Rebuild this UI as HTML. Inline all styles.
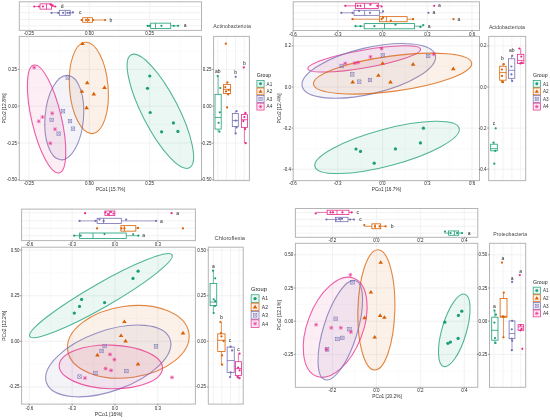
<!DOCTYPE html>
<html><head><meta charset="utf-8"><style>
html,body{margin:0;padding:0;background:#fff;width:550px;height:420px;overflow:hidden}
svg{display:block;position:absolute;left:0;top:0;will-change:transform}
#g{filter:blur(0.3px)}
text{font-family:"Liberation Sans", sans-serif}
</style></head><body>
<svg id="g" width="550" height="420" viewBox="0 0 550 420">
<rect width="550" height="420" fill="#fff"/>
<line x1="59.11" y1="1.80" x2="59.11" y2="30.40" stroke="#f6f6f6" stroke-width="0.5"/>
<line x1="119.49" y1="1.80" x2="119.49" y2="30.40" stroke="#f6f6f6" stroke-width="0.5"/>
<line x1="179.86" y1="1.80" x2="179.86" y2="30.40" stroke="#f6f6f6" stroke-width="0.5"/>
<line x1="28.92" y1="1.80" x2="28.92" y2="30.40" stroke="#ececec" stroke-width="0.7"/>
<line x1="89.30" y1="1.80" x2="89.30" y2="30.40" stroke="#ececec" stroke-width="0.7"/>
<line x1="149.68" y1="1.80" x2="149.68" y2="30.40" stroke="#ececec" stroke-width="0.7"/>
<line x1="59.11" y1="36.40" x2="59.11" y2="180.60" stroke="#f6f6f6" stroke-width="0.5"/>
<line x1="119.49" y1="36.40" x2="119.49" y2="180.60" stroke="#f6f6f6" stroke-width="0.5"/>
<line x1="179.86" y1="36.40" x2="179.86" y2="180.60" stroke="#f6f6f6" stroke-width="0.5"/>
<line x1="28.92" y1="36.40" x2="28.92" y2="180.60" stroke="#ececec" stroke-width="0.7"/>
<line x1="89.30" y1="36.40" x2="89.30" y2="180.60" stroke="#ececec" stroke-width="0.7"/>
<line x1="149.68" y1="36.40" x2="149.68" y2="180.60" stroke="#ececec" stroke-width="0.7"/>
<line x1="19.30" y1="161.40" x2="201.50" y2="161.40" stroke="#f6f6f6" stroke-width="0.5"/>
<line x1="19.30" y1="124.60" x2="201.50" y2="124.60" stroke="#f6f6f6" stroke-width="0.5"/>
<line x1="19.30" y1="87.80" x2="201.50" y2="87.80" stroke="#f6f6f6" stroke-width="0.5"/>
<line x1="19.30" y1="51.00" x2="201.50" y2="51.00" stroke="#f6f6f6" stroke-width="0.5"/>
<line x1="19.30" y1="179.80" x2="201.50" y2="179.80" stroke="#ececec" stroke-width="0.7"/>
<line x1="19.30" y1="143.00" x2="201.50" y2="143.00" stroke="#ececec" stroke-width="0.7"/>
<line x1="19.30" y1="106.20" x2="201.50" y2="106.20" stroke="#ececec" stroke-width="0.7"/>
<line x1="19.30" y1="69.40" x2="201.50" y2="69.40" stroke="#ececec" stroke-width="0.7"/>
<line x1="213.60" y1="161.40" x2="249.40" y2="161.40" stroke="#f6f6f6" stroke-width="0.5"/>
<line x1="213.60" y1="124.60" x2="249.40" y2="124.60" stroke="#f6f6f6" stroke-width="0.5"/>
<line x1="213.60" y1="87.80" x2="249.40" y2="87.80" stroke="#f6f6f6" stroke-width="0.5"/>
<line x1="213.60" y1="51.00" x2="249.40" y2="51.00" stroke="#f6f6f6" stroke-width="0.5"/>
<line x1="213.60" y1="179.80" x2="249.40" y2="179.80" stroke="#ececec" stroke-width="0.7"/>
<line x1="213.60" y1="143.00" x2="249.40" y2="143.00" stroke="#ececec" stroke-width="0.7"/>
<line x1="213.60" y1="106.20" x2="249.40" y2="106.20" stroke="#ececec" stroke-width="0.7"/>
<line x1="213.60" y1="69.40" x2="249.40" y2="69.40" stroke="#ececec" stroke-width="0.7"/>
<line x1="19.30" y1="6.50" x2="201.50" y2="6.50" stroke="#ececec" stroke-width="0.7"/>
<line x1="19.30" y1="12.60" x2="201.50" y2="12.60" stroke="#ececec" stroke-width="0.7"/>
<line x1="19.30" y1="19.50" x2="201.50" y2="19.50" stroke="#ececec" stroke-width="0.7"/>
<line x1="19.30" y1="25.80" x2="201.50" y2="25.80" stroke="#ececec" stroke-width="0.7"/>
<line x1="217.80" y1="36.40" x2="217.80" y2="180.60" stroke="#ececec" stroke-width="0.7"/>
<line x1="226.50" y1="36.40" x2="226.50" y2="180.60" stroke="#ececec" stroke-width="0.7"/>
<line x1="235.50" y1="36.40" x2="235.50" y2="180.60" stroke="#ececec" stroke-width="0.7"/>
<line x1="244.30" y1="36.40" x2="244.30" y2="180.60" stroke="#ececec" stroke-width="0.7"/>
<defs><clipPath id="cliptl"><rect x="19.3" y="36.4" width="182.2" height="144.2"/></clipPath></defs>
<g clip-path="url(#cliptl)">
<ellipse cx="160.36" cy="111.28" rx="63.53" ry="18.03" transform="rotate(-117.23 160.36 111.28)" fill="#1B9E77" fill-opacity="0.085" stroke="#1B9E77" stroke-opacity="0.75" stroke-width="1.1"/>
<ellipse cx="88.84" cy="87.94" rx="45.84" ry="19.29" transform="rotate(-94.51 88.84 87.94)" fill="#D95F02" fill-opacity="0.085" stroke="#D95F02" stroke-opacity="0.75" stroke-width="1.1"/>
<ellipse cx="64.26" cy="117.59" rx="42.36" ry="19.25" transform="rotate(-85.17 64.26 117.59)" fill="#7570B3" fill-opacity="0.085" stroke="#7570B3" stroke-opacity="0.75" stroke-width="1.1"/>
<ellipse cx="46.57" cy="119.01" rx="55.40" ry="14.84" transform="rotate(-103.23 46.57 119.01)" fill="#E7298A" fill-opacity="0.085" stroke="#E7298A" stroke-opacity="0.75" stroke-width="1.1"/>
<circle cx="149.80" cy="76.00" r="1.61" fill="#1B9E77"/>
<circle cx="147.50" cy="88.30" r="1.61" fill="#1B9E77"/>
<circle cx="150.20" cy="112.50" r="1.61" fill="#1B9E77"/>
<circle cx="173.40" cy="122.90" r="1.61" fill="#1B9E77"/>
<circle cx="161.60" cy="131.80" r="1.61" fill="#1B9E77"/>
<circle cx="177.90" cy="131.40" r="1.61" fill="#1B9E77"/>
<path d="M82.50,41.46 L84.80,45.10 L80.20,45.10Z" fill="#D95F02"/>
<path d="M87.20,80.56 L89.50,84.20 L84.91,84.20Z" fill="#D95F02"/>
<path d="M104.50,85.26 L106.80,88.90 L102.20,88.90Z" fill="#D95F02"/>
<path d="M81.90,89.16 L84.20,92.80 L79.61,92.80Z" fill="#D95F02"/>
<path d="M93.80,91.86 L96.09,95.50 L91.50,95.50Z" fill="#D95F02"/>
<path d="M86.60,105.56 L88.89,109.20 L84.30,109.20Z" fill="#D95F02"/>
<g stroke="#7570B3" stroke-width="0.5" fill="none"><rect x="66.02" y="75.92" width="3.57" height="3.57"/><path d="M66.02,75.92L69.58,79.48M69.58,75.92L66.02,79.48"/></g>
<g stroke="#7570B3" stroke-width="0.5" fill="none"><rect x="61.22" y="109.42" width="3.57" height="3.57"/><path d="M61.22,109.42L64.78,112.98M64.78,109.42L61.22,112.98"/></g>
<g stroke="#7570B3" stroke-width="0.5" fill="none"><rect x="49.92" y="118.12" width="3.57" height="3.57"/><path d="M49.92,118.12L53.48,121.69M53.48,118.12L49.92,121.69"/></g>
<g stroke="#7570B3" stroke-width="0.5" fill="none"><rect x="68.22" y="119.31" width="3.57" height="3.57"/><path d="M68.22,119.31L71.78,122.88M71.78,119.31L68.22,122.88"/></g>
<g stroke="#7570B3" stroke-width="0.5" fill="none"><rect x="71.22" y="126.91" width="3.57" height="3.57"/><path d="M71.22,126.91L74.78,130.48M74.78,126.91L71.22,130.48"/></g>
<g stroke="#7570B3" stroke-width="0.5" fill="none"><rect x="56.92" y="131.91" width="3.57" height="3.57"/><path d="M56.92,131.91L60.48,135.48M60.48,131.91L56.92,135.48"/></g>
<g stroke="#E7298A" stroke-width="0.55" fill="none"><path d="M32.59,65.98L35.82,69.21M35.82,65.98L32.59,69.21M32.18,67.60L36.22,67.60M34.20,65.58L34.20,69.62"/></g>
<g stroke="#E7298A" stroke-width="0.55" fill="none"><path d="M50.59,111.69L53.82,114.91M53.82,111.69L50.59,114.91M50.18,113.30L54.22,113.30M52.20,111.28L52.20,115.32"/></g>
<g stroke="#E7298A" stroke-width="0.55" fill="none"><path d="M40.88,115.39L44.12,118.61M44.12,115.39L40.88,118.61M40.48,117.00L44.52,117.00M42.50,114.98L42.50,119.02"/></g>
<g stroke="#E7298A" stroke-width="0.55" fill="none"><path d="M37.18,119.69L40.41,122.91M40.41,119.69L37.18,122.91M36.78,121.30L40.82,121.30M38.80,119.28L38.80,123.32"/></g>
<g stroke="#E7298A" stroke-width="0.55" fill="none"><path d="M53.38,127.58L56.62,130.81M56.62,127.58L53.38,130.81M52.98,129.20L57.02,129.20M55.00,127.18L55.00,131.22"/></g>
<g stroke="#E7298A" stroke-width="0.55" fill="none"><path d="M48.68,141.69L51.91,144.92M51.91,141.69L48.68,144.92M48.28,143.30L52.32,143.30M50.30,141.28L50.30,145.32"/></g>
</g>
<line x1="34.30" y1="6.50" x2="40.00" y2="6.50" stroke="#E7298A" stroke-width="0.65"/>
<line x1="51.60" y1="6.50" x2="55.30" y2="6.50" stroke="#E7298A" stroke-width="0.65"/>
<rect x="40.00" y="3.85" width="11.60" height="5.30" fill="#fff" stroke="#E7298A" stroke-width="0.8"/>
<line x1="46.50" y1="3.85" x2="46.50" y2="9.15" stroke="#E7298A" stroke-width="0.8"/>
<circle cx="34.30" cy="6.50" r="1.10" fill="#E7298A"/>
<circle cx="38.90" cy="6.50" r="1.10" fill="#E7298A"/>
<circle cx="42.90" cy="6.50" r="1.10" fill="#E7298A"/>
<circle cx="50.50" cy="4.60" r="1.10" fill="#E7298A"/>
<circle cx="52.70" cy="5.30" r="1.10" fill="#E7298A"/>
<circle cx="55.30" cy="6.50" r="1.10" fill="#E7298A"/>
<line x1="51.30" y1="12.80" x2="59.30" y2="12.80" stroke="#7570B3" stroke-width="0.65"/>
<line x1="70.20" y1="12.80" x2="73.30" y2="12.80" stroke="#7570B3" stroke-width="0.65"/>
<rect x="59.30" y="10.30" width="10.90" height="5.00" fill="#fff" stroke="#7570B3" stroke-width="0.8"/>
<line x1="65.30" y1="10.30" x2="65.30" y2="15.30" stroke="#7570B3" stroke-width="0.8"/>
<circle cx="51.50" cy="12.80" r="1.10" fill="#7570B3"/>
<circle cx="58.20" cy="12.80" r="1.10" fill="#7570B3"/>
<circle cx="63.10" cy="12.80" r="1.10" fill="#7570B3"/>
<circle cx="67.50" cy="12.80" r="1.10" fill="#7570B3"/>
<circle cx="69.60" cy="12.80" r="1.10" fill="#7570B3"/>
<circle cx="72.90" cy="12.30" r="1.10" fill="#7570B3"/>
<line x1="81.30" y1="20.00" x2="82.70" y2="20.00" stroke="#D95F02" stroke-width="0.65"/>
<line x1="92.50" y1="20.00" x2="105.10" y2="20.00" stroke="#D95F02" stroke-width="0.65"/>
<rect x="82.70" y="17.75" width="9.80" height="4.50" fill="#fff" stroke="#D95F02" stroke-width="0.8"/>
<line x1="87.60" y1="17.75" x2="87.60" y2="22.25" stroke="#D95F02" stroke-width="0.8"/>
<circle cx="81.60" cy="20.00" r="1.10" fill="#D95F02"/>
<circle cx="86.00" cy="20.00" r="1.10" fill="#D95F02"/>
<circle cx="88.70" cy="20.00" r="1.10" fill="#D95F02"/>
<circle cx="93.10" cy="20.00" r="1.10" fill="#D95F02"/>
<circle cx="105.10" cy="20.00" r="1.10" fill="#D95F02"/>
<line x1="147.60" y1="25.80" x2="150.70" y2="25.80" stroke="#1B9E77" stroke-width="0.65"/>
<line x1="170.70" y1="25.80" x2="178.10" y2="25.80" stroke="#1B9E77" stroke-width="0.65"/>
<rect x="150.70" y="23.15" width="20.00" height="5.30" fill="#fff" stroke="#1B9E77" stroke-width="0.8"/>
<line x1="155.50" y1="23.15" x2="155.50" y2="28.45" stroke="#1B9E77" stroke-width="0.8"/>
<circle cx="147.60" cy="25.80" r="1.10" fill="#1B9E77"/>
<circle cx="149.30" cy="25.80" r="1.10" fill="#1B9E77"/>
<circle cx="161.40" cy="25.80" r="1.10" fill="#1B9E77"/>
<circle cx="173.80" cy="25.80" r="1.10" fill="#1B9E77"/>
<circle cx="178.10" cy="25.80" r="1.10" fill="#1B9E77"/>
<line x1="218.10" y1="76.00" x2="218.10" y2="94.30" stroke="#1B9E77" stroke-width="0.65"/>
<line x1="218.10" y1="129.10" x2="218.10" y2="131.70" stroke="#1B9E77" stroke-width="0.65"/>
<rect x="215.00" y="94.30" width="6.20" height="34.80" fill="#fff" stroke="#1B9E77" stroke-width="0.8"/>
<line x1="215.00" y1="117.50" x2="221.20" y2="117.50" stroke="#1B9E77" stroke-width="0.8"/>
<circle cx="217.70" cy="76.00" r="1.10" fill="#1B9E77"/>
<circle cx="220.30" cy="88.00" r="1.10" fill="#1B9E77"/>
<circle cx="219.80" cy="112.30" r="1.10" fill="#1B9E77"/>
<circle cx="218.60" cy="122.80" r="1.10" fill="#1B9E77"/>
<circle cx="219.40" cy="131.70" r="1.10" fill="#1B9E77"/>
<circle cx="225.80" cy="43.70" r="1.10" fill="#D95F02"/>
<circle cx="227.10" cy="107.40" r="1.10" fill="#D95F02"/>
<line x1="227.00" y1="82.40" x2="227.00" y2="84.50" stroke="#D95F02" stroke-width="0.65"/>
<line x1="227.00" y1="93.60" x2="227.00" y2="94.40" stroke="#D95F02" stroke-width="0.65"/>
<rect x="223.60" y="84.50" width="6.80" height="9.10" fill="#fff" stroke="#D95F02" stroke-width="0.8"/>
<line x1="223.60" y1="89.30" x2="230.40" y2="89.30" stroke="#D95F02" stroke-width="0.8"/>
<circle cx="227.40" cy="82.40" r="1.10" fill="#D95F02"/>
<circle cx="225.30" cy="87.10" r="1.10" fill="#D95F02"/>
<circle cx="228.70" cy="90.10" r="1.10" fill="#D95F02"/>
<circle cx="226.10" cy="91.40" r="1.10" fill="#D95F02"/>
<circle cx="228.30" cy="94.40" r="1.10" fill="#D95F02"/>
<line x1="235.30" y1="111.10" x2="235.30" y2="113.40" stroke="#7570B3" stroke-width="0.65"/>
<line x1="235.30" y1="126.60" x2="235.30" y2="133.40" stroke="#7570B3" stroke-width="0.65"/>
<rect x="232.30" y="113.40" width="6.00" height="13.20" fill="#fff" stroke="#7570B3" stroke-width="0.8"/>
<line x1="232.30" y1="120.60" x2="238.30" y2="120.60" stroke="#7570B3" stroke-width="0.8"/>
<circle cx="236.60" cy="111.10" r="1.10" fill="#7570B3"/>
<circle cx="235.70" cy="120.60" r="1.10" fill="#7570B3"/>
<circle cx="236.60" cy="127.40" r="1.10" fill="#7570B3"/>
<circle cx="235.70" cy="133.40" r="1.10" fill="#7570B3"/>
<circle cx="235.70" cy="76.80" r="1.10" fill="#7570B3"/>
<line x1="244.40" y1="112.90" x2="244.40" y2="114.60" stroke="#E7298A" stroke-width="0.65"/>
<line x1="244.40" y1="127.40" x2="244.40" y2="143.20" stroke="#E7298A" stroke-width="0.65"/>
<rect x="241.40" y="114.60" width="6.00" height="12.80" fill="#fff" stroke="#E7298A" stroke-width="0.8"/>
<line x1="241.40" y1="119.70" x2="247.40" y2="119.70" stroke="#E7298A" stroke-width="0.8"/>
<circle cx="245.50" cy="112.90" r="1.10" fill="#E7298A"/>
<circle cx="244.30" cy="117.10" r="1.10" fill="#E7298A"/>
<circle cx="243.40" cy="121.10" r="1.10" fill="#E7298A"/>
<circle cx="245.10" cy="129.10" r="1.10" fill="#E7298A"/>
<circle cx="245.70" cy="143.20" r="1.10" fill="#E7298A"/>
<circle cx="243.80" cy="67.40" r="1.10" fill="#E7298A"/>
<rect x="19.30" y="1.80" width="182.20" height="28.60" fill="none" stroke="#b4b4b4" stroke-width="1"/>
<rect x="19.30" y="36.40" width="182.20" height="144.20" fill="none" stroke="#b4b4b4" stroke-width="1"/>
<rect x="213.60" y="36.40" width="35.80" height="144.20" fill="none" stroke="#b4b4b4" stroke-width="1"/>
<line x1="28.92" y1="30.40" x2="28.92" y2="32.00" stroke="#777" stroke-width="0.7"/>
<line x1="28.92" y1="180.60" x2="28.92" y2="182.20" stroke="#777" stroke-width="0.7"/>
<line x1="89.30" y1="30.40" x2="89.30" y2="32.00" stroke="#777" stroke-width="0.7"/>
<line x1="89.30" y1="180.60" x2="89.30" y2="182.20" stroke="#777" stroke-width="0.7"/>
<line x1="149.68" y1="30.40" x2="149.68" y2="32.00" stroke="#777" stroke-width="0.7"/>
<line x1="149.68" y1="180.60" x2="149.68" y2="182.20" stroke="#777" stroke-width="0.7"/>
<line x1="17.70" y1="179.80" x2="19.30" y2="179.80" stroke="#777" stroke-width="0.7"/>
<line x1="212.00" y1="179.80" x2="213.60" y2="179.80" stroke="#777" stroke-width="0.7"/>
<line x1="17.70" y1="143.00" x2="19.30" y2="143.00" stroke="#777" stroke-width="0.7"/>
<line x1="212.00" y1="143.00" x2="213.60" y2="143.00" stroke="#777" stroke-width="0.7"/>
<line x1="17.70" y1="106.20" x2="19.30" y2="106.20" stroke="#777" stroke-width="0.7"/>
<line x1="212.00" y1="106.20" x2="213.60" y2="106.20" stroke="#777" stroke-width="0.7"/>
<line x1="17.70" y1="69.40" x2="19.30" y2="69.40" stroke="#777" stroke-width="0.7"/>
<line x1="212.00" y1="69.40" x2="213.60" y2="69.40" stroke="#777" stroke-width="0.7"/>
<rect x="256.90" y="80.35" width="7.20" height="6.90" fill="#1B9E77" fill-opacity="0.1" stroke="#1B9E77" stroke-width="0.7"/>
<circle cx="260.50" cy="83.80" r="1.47" fill="#1B9E77"/>
<rect x="256.90" y="87.95" width="7.20" height="6.90" fill="#D95F02" fill-opacity="0.1" stroke="#D95F02" stroke-width="0.7"/>
<path d="M260.50,89.45 L262.59,92.77 L258.41,92.77Z" fill="#D95F02"/>
<rect x="256.90" y="95.55" width="7.20" height="6.90" fill="#7570B3" fill-opacity="0.1" stroke="#7570B3" stroke-width="0.7"/>
<g stroke="#7570B3" stroke-width="0.5" fill="none"><rect x="258.87" y="97.37" width="3.26" height="3.26"/><path d="M258.87,97.37L262.13,100.63M262.13,97.37L258.87,100.63"/></g>
<rect x="256.90" y="103.15" width="7.20" height="6.90" fill="#E7298A" fill-opacity="0.1" stroke="#E7298A" stroke-width="0.7"/>
<g stroke="#E7298A" stroke-width="0.55" fill="none"><path d="M259.03,105.13L261.97,108.07M261.97,105.13L259.03,108.07M258.66,106.60L262.34,106.60M260.50,104.76L260.50,108.44"/></g>
<line x1="315.36" y1="1.80" x2="315.36" y2="30.50" stroke="#f6f6f6" stroke-width="0.5"/>
<line x1="360.12" y1="1.80" x2="360.12" y2="30.50" stroke="#f6f6f6" stroke-width="0.5"/>
<line x1="404.88" y1="1.80" x2="404.88" y2="30.50" stroke="#f6f6f6" stroke-width="0.5"/>
<line x1="449.64" y1="1.80" x2="449.64" y2="30.50" stroke="#f6f6f6" stroke-width="0.5"/>
<line x1="337.74" y1="1.80" x2="337.74" y2="30.50" stroke="#ececec" stroke-width="0.7"/>
<line x1="382.50" y1="1.80" x2="382.50" y2="30.50" stroke="#ececec" stroke-width="0.7"/>
<line x1="427.26" y1="1.80" x2="427.26" y2="30.50" stroke="#ececec" stroke-width="0.7"/>
<line x1="472.02" y1="1.80" x2="472.02" y2="30.50" stroke="#ececec" stroke-width="0.7"/>
<line x1="315.36" y1="36.40" x2="315.36" y2="180.65" stroke="#f6f6f6" stroke-width="0.5"/>
<line x1="360.12" y1="36.40" x2="360.12" y2="180.65" stroke="#f6f6f6" stroke-width="0.5"/>
<line x1="404.88" y1="36.40" x2="404.88" y2="180.65" stroke="#f6f6f6" stroke-width="0.5"/>
<line x1="449.64" y1="36.40" x2="449.64" y2="180.65" stroke="#f6f6f6" stroke-width="0.5"/>
<line x1="337.74" y1="36.40" x2="337.74" y2="180.65" stroke="#ececec" stroke-width="0.7"/>
<line x1="382.50" y1="36.40" x2="382.50" y2="180.65" stroke="#ececec" stroke-width="0.7"/>
<line x1="427.26" y1="36.40" x2="427.26" y2="180.65" stroke="#ececec" stroke-width="0.7"/>
<line x1="472.02" y1="36.40" x2="472.02" y2="180.65" stroke="#ececec" stroke-width="0.7"/>
<line x1="293.20" y1="148.65" x2="479.50" y2="148.65" stroke="#f6f6f6" stroke-width="0.5"/>
<line x1="293.20" y1="107.55" x2="479.50" y2="107.55" stroke="#f6f6f6" stroke-width="0.5"/>
<line x1="293.20" y1="66.45" x2="479.50" y2="66.45" stroke="#f6f6f6" stroke-width="0.5"/>
<line x1="293.20" y1="169.20" x2="479.50" y2="169.20" stroke="#ececec" stroke-width="0.7"/>
<line x1="293.20" y1="128.10" x2="479.50" y2="128.10" stroke="#ececec" stroke-width="0.7"/>
<line x1="293.20" y1="87.00" x2="479.50" y2="87.00" stroke="#ececec" stroke-width="0.7"/>
<line x1="293.20" y1="45.90" x2="479.50" y2="45.90" stroke="#ececec" stroke-width="0.7"/>
<line x1="488.70" y1="148.65" x2="525.70" y2="148.65" stroke="#f6f6f6" stroke-width="0.5"/>
<line x1="488.70" y1="107.55" x2="525.70" y2="107.55" stroke="#f6f6f6" stroke-width="0.5"/>
<line x1="488.70" y1="66.45" x2="525.70" y2="66.45" stroke="#f6f6f6" stroke-width="0.5"/>
<line x1="488.70" y1="169.20" x2="525.70" y2="169.20" stroke="#ececec" stroke-width="0.7"/>
<line x1="488.70" y1="128.10" x2="525.70" y2="128.10" stroke="#ececec" stroke-width="0.7"/>
<line x1="488.70" y1="87.00" x2="525.70" y2="87.00" stroke="#ececec" stroke-width="0.7"/>
<line x1="488.70" y1="45.90" x2="525.70" y2="45.90" stroke="#ececec" stroke-width="0.7"/>
<line x1="293.20" y1="5.80" x2="479.50" y2="5.80" stroke="#ececec" stroke-width="0.7"/>
<line x1="293.20" y1="12.80" x2="479.50" y2="12.80" stroke="#ececec" stroke-width="0.7"/>
<line x1="293.20" y1="19.20" x2="479.50" y2="19.20" stroke="#ececec" stroke-width="0.7"/>
<line x1="293.20" y1="26.20" x2="479.50" y2="26.20" stroke="#ececec" stroke-width="0.7"/>
<line x1="494.70" y1="36.40" x2="494.70" y2="180.65" stroke="#ececec" stroke-width="0.7"/>
<line x1="503.00" y1="36.40" x2="503.00" y2="180.65" stroke="#ececec" stroke-width="0.7"/>
<line x1="511.90" y1="36.40" x2="511.90" y2="180.65" stroke="#ececec" stroke-width="0.7"/>
<line x1="520.60" y1="36.40" x2="520.60" y2="180.65" stroke="#ececec" stroke-width="0.7"/>
<defs><clipPath id="cliptr"><rect x="293.2" y="36.4" width="186.3" height="144.25"/></clipPath></defs>
<g clip-path="url(#cliptr)">
<ellipse cx="364.19" cy="58.93" rx="57.16" ry="8.88" transform="rotate(170.13 364.19 58.93)" fill="#E7298A" fill-opacity="0.085" stroke="#E7298A" stroke-opacity="0.75" stroke-width="1.1"/>
<ellipse cx="368.75" cy="70.88" rx="68.38" ry="23.13" transform="rotate(166.81 368.75 70.88)" fill="#7570B3" fill-opacity="0.085" stroke="#7570B3" stroke-opacity="0.75" stroke-width="1.1"/>
<ellipse cx="392.60" cy="73.64" rx="79.80" ry="17.63" transform="rotate(172.33 392.60 73.64)" fill="#D95F02" fill-opacity="0.085" stroke="#D95F02" stroke-opacity="0.75" stroke-width="1.1"/>
<ellipse cx="387.06" cy="147.42" rx="74.63" ry="18.36" transform="rotate(165.12 387.06 147.42)" fill="#1B9E77" fill-opacity="0.085" stroke="#1B9E77" stroke-opacity="0.75" stroke-width="1.1"/>
<circle cx="356.00" cy="149.00" r="1.61" fill="#1B9E77"/>
<circle cx="360.50" cy="151.40" r="1.61" fill="#1B9E77"/>
<circle cx="374.20" cy="163.20" r="1.61" fill="#1B9E77"/>
<circle cx="395.40" cy="148.90" r="1.61" fill="#1B9E77"/>
<circle cx="420.40" cy="142.90" r="1.61" fill="#1B9E77"/>
<circle cx="423.40" cy="128.20" r="1.61" fill="#1B9E77"/>
<path d="M352.70,79.76 L355.00,83.40 L350.40,83.40Z" fill="#D95F02"/>
<path d="M378.40,73.16 L380.69,76.80 L376.10,76.80Z" fill="#D95F02"/>
<path d="M382.60,61.16 L384.90,64.80 L380.31,64.80Z" fill="#D95F02"/>
<path d="M390.50,79.86 L392.80,83.50 L388.20,83.50Z" fill="#D95F02"/>
<path d="M413.10,62.06 L415.40,65.70 L410.81,65.70Z" fill="#D95F02"/>
<path d="M453.30,66.56 L455.60,70.20 L451.00,70.20Z" fill="#D95F02"/>
<g stroke="#7570B3" stroke-width="0.5" fill="none"><rect x="339.91" y="64.22" width="3.57" height="3.57"/><path d="M339.91,64.22L343.49,67.78M343.49,64.22L339.91,67.78"/></g>
<g stroke="#7570B3" stroke-width="0.5" fill="none"><rect x="350.41" y="72.62" width="3.57" height="3.57"/><path d="M350.41,72.62L353.99,76.19M353.99,72.62L350.41,76.19"/></g>
<g stroke="#7570B3" stroke-width="0.5" fill="none"><rect x="357.41" y="79.92" width="3.57" height="3.57"/><path d="M357.41,79.92L360.99,83.48M360.99,79.92L357.41,83.48"/></g>
<g stroke="#7570B3" stroke-width="0.5" fill="none"><rect x="368.21" y="78.22" width="3.57" height="3.57"/><path d="M368.21,78.22L371.79,81.78M371.79,78.22L368.21,81.78"/></g>
<g stroke="#7570B3" stroke-width="0.5" fill="none"><rect x="381.01" y="53.52" width="3.57" height="3.57"/><path d="M381.01,53.52L384.59,57.08M384.59,53.52L381.01,57.08"/></g>
<g stroke="#7570B3" stroke-width="0.5" fill="none"><rect x="426.41" y="54.22" width="3.57" height="3.57"/><path d="M426.41,54.22L429.99,57.78M429.99,54.22L426.41,57.78"/></g>
<g stroke="#E7298A" stroke-width="0.55" fill="none"><path d="M343.58,61.78L346.81,65.02M346.81,61.78L343.58,65.02M343.18,63.40L347.22,63.40M345.20,61.38L345.20,65.42"/></g>
<g stroke="#E7298A" stroke-width="0.55" fill="none"><path d="M353.19,61.48L356.42,64.72M356.42,61.48L353.19,64.72M352.78,63.10L356.82,63.10M354.80,61.08L354.80,65.12"/></g>
<g stroke="#E7298A" stroke-width="0.55" fill="none"><path d="M356.38,60.88L359.62,64.11M359.62,60.88L356.38,64.11M355.98,62.50L360.02,62.50M358.00,60.48L358.00,64.52"/></g>
<g stroke="#E7298A" stroke-width="0.55" fill="none"><path d="M368.88,55.28L372.12,58.52M372.12,55.28L368.88,58.52M368.48,56.90L372.52,56.90M370.50,54.88L370.50,58.92"/></g>
<g stroke="#E7298A" stroke-width="0.55" fill="none"><path d="M379.88,46.98L383.12,50.22M383.12,46.98L379.88,50.22M379.48,48.60L383.52,48.60M381.50,46.58L381.50,50.62"/></g>
<g stroke="#E7298A" stroke-width="0.55" fill="none"><path d="M431.99,52.59L435.22,55.82M435.22,52.59L431.99,55.82M431.58,54.20L435.62,54.20M433.60,52.18L433.60,56.22"/></g>
</g>
<line x1="345.30" y1="5.80" x2="355.50" y2="5.80" stroke="#E7298A" stroke-width="0.65"/>
<line x1="378.30" y1="5.80" x2="381.60" y2="5.80" stroke="#E7298A" stroke-width="0.65"/>
<rect x="355.50" y="3.20" width="22.80" height="5.20" fill="#fff" stroke="#E7298A" stroke-width="0.8"/>
<line x1="364.50" y1="3.20" x2="364.50" y2="8.40" stroke="#E7298A" stroke-width="0.8"/>
<circle cx="345.30" cy="5.80" r="1.10" fill="#E7298A"/>
<circle cx="357.60" cy="5.80" r="1.10" fill="#E7298A"/>
<circle cx="360.50" cy="5.80" r="1.10" fill="#E7298A"/>
<circle cx="370.40" cy="4.70" r="1.10" fill="#E7298A"/>
<circle cx="377.30" cy="5.80" r="1.10" fill="#E7298A"/>
<circle cx="381.60" cy="6.50" r="1.10" fill="#E7298A"/>
<circle cx="434.20" cy="5.80" r="1.10" fill="#E7298A"/>
<line x1="341.30" y1="12.80" x2="354.00" y2="12.80" stroke="#7570B3" stroke-width="0.65"/>
<line x1="379.50" y1="12.80" x2="383.10" y2="12.80" stroke="#7570B3" stroke-width="0.65"/>
<rect x="354.00" y="10.25" width="25.50" height="5.10" fill="#fff" stroke="#7570B3" stroke-width="0.8"/>
<line x1="364.60" y1="10.25" x2="364.60" y2="15.35" stroke="#7570B3" stroke-width="0.8"/>
<circle cx="341.30" cy="12.80" r="1.10" fill="#7570B3"/>
<circle cx="352.50" cy="12.80" r="1.10" fill="#7570B3"/>
<circle cx="359.10" cy="10.90" r="1.10" fill="#7570B3"/>
<circle cx="370.00" cy="12.80" r="1.10" fill="#7570B3"/>
<circle cx="383.10" cy="11.30" r="1.10" fill="#7570B3"/>
<circle cx="428.40" cy="12.80" r="1.10" fill="#7570B3"/>
<line x1="352.50" y1="19.20" x2="379.50" y2="19.20" stroke="#D95F02" stroke-width="0.65"/>
<line x1="407.10" y1="19.20" x2="413.10" y2="19.20" stroke="#D95F02" stroke-width="0.65"/>
<rect x="379.50" y="16.65" width="27.60" height="5.10" fill="#fff" stroke="#D95F02" stroke-width="0.8"/>
<line x1="386.40" y1="16.65" x2="386.40" y2="21.75" stroke="#D95F02" stroke-width="0.8"/>
<circle cx="352.50" cy="19.20" r="1.10" fill="#D95F02"/>
<circle cx="381.60" cy="19.20" r="1.10" fill="#D95F02"/>
<circle cx="383.10" cy="17.70" r="1.10" fill="#D95F02"/>
<circle cx="390.80" cy="20.70" r="1.10" fill="#D95F02"/>
<circle cx="413.10" cy="19.20" r="1.10" fill="#D95F02"/>
<circle cx="453.50" cy="19.20" r="1.10" fill="#D95F02"/>
<line x1="355.50" y1="26.20" x2="364.20" y2="26.20" stroke="#1B9E77" stroke-width="0.65"/>
<line x1="414.50" y1="26.20" x2="423.30" y2="26.20" stroke="#1B9E77" stroke-width="0.65"/>
<rect x="364.20" y="23.60" width="50.30" height="5.20" fill="#fff" stroke="#1B9E77" stroke-width="0.8"/>
<line x1="384.50" y1="23.60" x2="384.50" y2="28.80" stroke="#1B9E77" stroke-width="0.8"/>
<circle cx="355.50" cy="26.20" r="1.10" fill="#1B9E77"/>
<circle cx="360.50" cy="26.20" r="1.10" fill="#1B9E77"/>
<circle cx="374.40" cy="26.20" r="1.10" fill="#1B9E77"/>
<circle cx="395.50" cy="24.70" r="1.10" fill="#1B9E77"/>
<circle cx="420.40" cy="26.90" r="1.10" fill="#1B9E77"/>
<circle cx="423.30" cy="25.00" r="1.10" fill="#1B9E77"/>
<line x1="502.90" y1="63.40" x2="502.90" y2="66.20" stroke="#D95F02" stroke-width="0.65"/>
<line x1="502.90" y1="80.20" x2="502.90" y2="82.50" stroke="#D95F02" stroke-width="0.65"/>
<rect x="499.70" y="66.20" width="6.40" height="14.00" fill="#fff" stroke="#D95F02" stroke-width="0.8"/>
<line x1="499.70" y1="72.60" x2="506.10" y2="72.60" stroke="#D95F02" stroke-width="0.8"/>
<circle cx="503.80" cy="64.20" r="1.10" fill="#D95F02"/>
<circle cx="502.00" cy="69.50" r="1.10" fill="#D95F02"/>
<circle cx="502.00" cy="75.90" r="1.10" fill="#D95F02"/>
<circle cx="502.00" cy="81.70" r="1.10" fill="#D95F02"/>
<circle cx="503.00" cy="82.20" r="1.10" fill="#D95F02"/>
<line x1="511.60" y1="55.80" x2="511.60" y2="58.80" stroke="#7570B3" stroke-width="0.65"/>
<line x1="511.60" y1="78.30" x2="511.60" y2="81.40" stroke="#7570B3" stroke-width="0.65"/>
<rect x="508.40" y="58.80" width="6.40" height="19.50" fill="#fff" stroke="#7570B3" stroke-width="0.8"/>
<line x1="508.40" y1="70.30" x2="514.80" y2="70.30" stroke="#7570B3" stroke-width="0.8"/>
<circle cx="512.20" cy="55.80" r="1.10" fill="#7570B3"/>
<circle cx="511.40" cy="66.50" r="1.10" fill="#7570B3"/>
<circle cx="511.40" cy="74.40" r="1.10" fill="#7570B3"/>
<circle cx="512.20" cy="80.90" r="1.10" fill="#7570B3"/>
<line x1="520.70" y1="48.50" x2="520.70" y2="54.30" stroke="#E7298A" stroke-width="0.65"/>
<line x1="520.70" y1="63.40" x2="520.70" y2="63.40" stroke="#E7298A" stroke-width="0.65"/>
<rect x="517.50" y="54.30" width="6.40" height="9.10" fill="#fff" stroke="#E7298A" stroke-width="0.8"/>
<line x1="517.50" y1="60.40" x2="523.90" y2="60.40" stroke="#E7298A" stroke-width="0.8"/>
<circle cx="519.30" cy="48.50" r="1.10" fill="#E7298A"/>
<circle cx="521.30" cy="56.60" r="1.10" fill="#E7298A"/>
<circle cx="521.80" cy="62.70" r="1.10" fill="#E7298A"/>
<circle cx="520.30" cy="63.40" r="1.10" fill="#E7298A"/>
<line x1="494.00" y1="142.50" x2="494.00" y2="144.20" stroke="#1B9E77" stroke-width="0.65"/>
<line x1="494.00" y1="150.80" x2="494.00" y2="151.30" stroke="#1B9E77" stroke-width="0.65"/>
<rect x="490.70" y="144.20" width="6.60" height="6.60" fill="#fff" stroke="#1B9E77" stroke-width="0.8"/>
<line x1="490.70" y1="148.70" x2="497.30" y2="148.70" stroke="#1B9E77" stroke-width="0.8"/>
<circle cx="493.50" cy="142.50" r="1.10" fill="#1B9E77"/>
<circle cx="495.30" cy="150.80" r="1.10" fill="#1B9E77"/>
<circle cx="495.70" cy="128.30" r="1.10" fill="#1B9E77"/>
<circle cx="494.30" cy="163.70" r="1.10" fill="#1B9E77"/>
<rect x="293.20" y="1.80" width="186.30" height="28.70" fill="none" stroke="#b4b4b4" stroke-width="1"/>
<rect x="293.20" y="36.40" width="186.30" height="144.25" fill="none" stroke="#b4b4b4" stroke-width="1"/>
<rect x="488.70" y="36.40" width="37.00" height="144.25" fill="none" stroke="#b4b4b4" stroke-width="1"/>
<line x1="292.98" y1="30.50" x2="292.98" y2="32.10" stroke="#777" stroke-width="0.7"/>
<line x1="292.98" y1="180.65" x2="292.98" y2="182.25" stroke="#777" stroke-width="0.7"/>
<line x1="337.74" y1="30.50" x2="337.74" y2="32.10" stroke="#777" stroke-width="0.7"/>
<line x1="337.74" y1="180.65" x2="337.74" y2="182.25" stroke="#777" stroke-width="0.7"/>
<line x1="382.50" y1="30.50" x2="382.50" y2="32.10" stroke="#777" stroke-width="0.7"/>
<line x1="382.50" y1="180.65" x2="382.50" y2="182.25" stroke="#777" stroke-width="0.7"/>
<line x1="427.26" y1="30.50" x2="427.26" y2="32.10" stroke="#777" stroke-width="0.7"/>
<line x1="427.26" y1="180.65" x2="427.26" y2="182.25" stroke="#777" stroke-width="0.7"/>
<line x1="472.02" y1="30.50" x2="472.02" y2="32.10" stroke="#777" stroke-width="0.7"/>
<line x1="472.02" y1="180.65" x2="472.02" y2="182.25" stroke="#777" stroke-width="0.7"/>
<line x1="291.60" y1="169.20" x2="293.20" y2="169.20" stroke="#777" stroke-width="0.7"/>
<line x1="487.10" y1="169.20" x2="488.70" y2="169.20" stroke="#777" stroke-width="0.7"/>
<line x1="291.60" y1="128.10" x2="293.20" y2="128.10" stroke="#777" stroke-width="0.7"/>
<line x1="487.10" y1="128.10" x2="488.70" y2="128.10" stroke="#777" stroke-width="0.7"/>
<line x1="291.60" y1="87.00" x2="293.20" y2="87.00" stroke="#777" stroke-width="0.7"/>
<line x1="487.10" y1="87.00" x2="488.70" y2="87.00" stroke="#777" stroke-width="0.7"/>
<line x1="291.60" y1="45.90" x2="293.20" y2="45.90" stroke="#777" stroke-width="0.7"/>
<line x1="487.10" y1="45.90" x2="488.70" y2="45.90" stroke="#777" stroke-width="0.7"/>
<rect x="533.20" y="80.35" width="7.20" height="6.90" fill="#1B9E77" fill-opacity="0.1" stroke="#1B9E77" stroke-width="0.7"/>
<circle cx="536.80" cy="83.80" r="1.47" fill="#1B9E77"/>
<rect x="533.20" y="87.95" width="7.20" height="6.90" fill="#D95F02" fill-opacity="0.1" stroke="#D95F02" stroke-width="0.7"/>
<path d="M536.80,89.45 L538.89,92.77 L534.71,92.77Z" fill="#D95F02"/>
<rect x="533.20" y="95.55" width="7.20" height="6.90" fill="#7570B3" fill-opacity="0.1" stroke="#7570B3" stroke-width="0.7"/>
<g stroke="#7570B3" stroke-width="0.5" fill="none"><rect x="535.17" y="97.37" width="3.26" height="3.26"/><path d="M535.17,97.37L538.43,100.63M538.43,97.37L535.17,100.63"/></g>
<rect x="533.20" y="103.15" width="7.20" height="6.90" fill="#E7298A" fill-opacity="0.1" stroke="#E7298A" stroke-width="0.7"/>
<g stroke="#E7298A" stroke-width="0.55" fill="none"><path d="M535.33,105.13L538.27,108.07M538.27,105.13L535.33,108.07M534.96,106.60L538.64,106.60M536.80,104.76L536.80,108.44"/></g>
<line x1="50.74" y1="209.10" x2="50.74" y2="240.60" stroke="#f6f6f6" stroke-width="0.5"/>
<line x1="93.58" y1="209.10" x2="93.58" y2="240.60" stroke="#f6f6f6" stroke-width="0.5"/>
<line x1="136.42" y1="209.10" x2="136.42" y2="240.60" stroke="#f6f6f6" stroke-width="0.5"/>
<line x1="179.26" y1="209.10" x2="179.26" y2="240.60" stroke="#f6f6f6" stroke-width="0.5"/>
<line x1="29.32" y1="209.10" x2="29.32" y2="240.60" stroke="#ececec" stroke-width="0.7"/>
<line x1="72.16" y1="209.10" x2="72.16" y2="240.60" stroke="#ececec" stroke-width="0.7"/>
<line x1="115.00" y1="209.10" x2="115.00" y2="240.60" stroke="#ececec" stroke-width="0.7"/>
<line x1="157.84" y1="209.10" x2="157.84" y2="240.60" stroke="#ececec" stroke-width="0.7"/>
<line x1="50.74" y1="247.20" x2="50.74" y2="404.10" stroke="#f6f6f6" stroke-width="0.5"/>
<line x1="93.58" y1="247.20" x2="93.58" y2="404.10" stroke="#f6f6f6" stroke-width="0.5"/>
<line x1="136.42" y1="247.20" x2="136.42" y2="404.10" stroke="#f6f6f6" stroke-width="0.5"/>
<line x1="179.26" y1="247.20" x2="179.26" y2="404.10" stroke="#f6f6f6" stroke-width="0.5"/>
<line x1="29.32" y1="247.20" x2="29.32" y2="404.10" stroke="#ececec" stroke-width="0.7"/>
<line x1="72.16" y1="247.20" x2="72.16" y2="404.10" stroke="#ececec" stroke-width="0.7"/>
<line x1="115.00" y1="247.20" x2="115.00" y2="404.10" stroke="#ececec" stroke-width="0.7"/>
<line x1="157.84" y1="247.20" x2="157.84" y2="404.10" stroke="#ececec" stroke-width="0.7"/>
<line x1="21.60" y1="364.10" x2="195.40" y2="364.10" stroke="#f6f6f6" stroke-width="0.5"/>
<line x1="21.60" y1="318.50" x2="195.40" y2="318.50" stroke="#f6f6f6" stroke-width="0.5"/>
<line x1="21.60" y1="272.90" x2="195.40" y2="272.90" stroke="#f6f6f6" stroke-width="0.5"/>
<line x1="21.60" y1="386.90" x2="195.40" y2="386.90" stroke="#ececec" stroke-width="0.7"/>
<line x1="21.60" y1="341.30" x2="195.40" y2="341.30" stroke="#ececec" stroke-width="0.7"/>
<line x1="21.60" y1="295.70" x2="195.40" y2="295.70" stroke="#ececec" stroke-width="0.7"/>
<line x1="21.60" y1="250.10" x2="195.40" y2="250.10" stroke="#ececec" stroke-width="0.7"/>
<line x1="208.30" y1="364.10" x2="243.20" y2="364.10" stroke="#f6f6f6" stroke-width="0.5"/>
<line x1="208.30" y1="318.50" x2="243.20" y2="318.50" stroke="#f6f6f6" stroke-width="0.5"/>
<line x1="208.30" y1="272.90" x2="243.20" y2="272.90" stroke="#f6f6f6" stroke-width="0.5"/>
<line x1="208.30" y1="386.90" x2="243.20" y2="386.90" stroke="#ececec" stroke-width="0.7"/>
<line x1="208.30" y1="341.30" x2="243.20" y2="341.30" stroke="#ececec" stroke-width="0.7"/>
<line x1="208.30" y1="295.70" x2="243.20" y2="295.70" stroke="#ececec" stroke-width="0.7"/>
<line x1="208.30" y1="250.10" x2="243.20" y2="250.10" stroke="#ececec" stroke-width="0.7"/>
<line x1="21.60" y1="212.70" x2="195.40" y2="212.70" stroke="#ececec" stroke-width="0.7"/>
<line x1="21.60" y1="220.80" x2="195.40" y2="220.80" stroke="#ececec" stroke-width="0.7"/>
<line x1="21.60" y1="228.20" x2="195.40" y2="228.20" stroke="#ececec" stroke-width="0.7"/>
<line x1="21.60" y1="235.70" x2="195.40" y2="235.70" stroke="#ececec" stroke-width="0.7"/>
<line x1="213.30" y1="247.20" x2="213.30" y2="404.10" stroke="#ececec" stroke-width="0.7"/>
<line x1="221.90" y1="247.20" x2="221.90" y2="404.10" stroke="#ececec" stroke-width="0.7"/>
<line x1="230.50" y1="247.20" x2="230.50" y2="404.10" stroke="#ececec" stroke-width="0.7"/>
<line x1="239.00" y1="247.20" x2="239.00" y2="404.10" stroke="#ececec" stroke-width="0.7"/>
<defs><clipPath id="clipbl"><rect x="21.6" y="247.2" width="173.8" height="156.90000000000003"/></clipPath></defs>
<g clip-path="url(#clipbl)">
<ellipse cx="100.93" cy="295.66" rx="82.01" ry="11.83" transform="rotate(150.16 100.93 295.66)" fill="#1B9E77" fill-opacity="0.085" stroke="#1B9E77" stroke-opacity="0.75" stroke-width="1.1"/>
<ellipse cx="128.33" cy="341.87" rx="61.22" ry="35.71" transform="rotate(172.01 128.33 341.87)" fill="#D95F02" fill-opacity="0.085" stroke="#D95F02" stroke-opacity="0.75" stroke-width="1.1"/>
<ellipse cx="108.27" cy="360.94" rx="65.51" ry="30.18" transform="rotate(160.50 108.27 360.94)" fill="#7570B3" fill-opacity="0.085" stroke="#7570B3" stroke-opacity="0.75" stroke-width="1.1"/>
<ellipse cx="110.86" cy="366.92" rx="51.67" ry="21.82" transform="rotate(-178.48 110.86 366.92)" fill="#E7298A" fill-opacity="0.085" stroke="#E7298A" stroke-opacity="0.75" stroke-width="1.1"/>
<circle cx="81.60" cy="299.40" r="1.61" fill="#1B9E77"/>
<circle cx="79.50" cy="306.40" r="1.61" fill="#1B9E77"/>
<circle cx="74.30" cy="313.10" r="1.61" fill="#1B9E77"/>
<circle cx="104.60" cy="302.60" r="1.61" fill="#1B9E77"/>
<circle cx="138.10" cy="271.20" r="1.61" fill="#1B9E77"/>
<circle cx="133.00" cy="278.40" r="1.61" fill="#1B9E77"/>
<path d="M124.40,319.46 L126.70,323.10 L122.11,323.10Z" fill="#D95F02"/>
<path d="M121.00,333.46 L123.30,337.10 L118.70,337.10Z" fill="#D95F02"/>
<path d="M125.60,338.86 L127.89,342.50 L123.30,342.50Z" fill="#D95F02"/>
<path d="M138.00,361.86 L140.29,365.50 L135.71,365.50Z" fill="#D95F02"/>
<path d="M183.00,330.86 L185.29,334.50 L180.71,334.50Z" fill="#D95F02"/>
<path d="M97.40,352.86 L99.70,356.50 L95.11,356.50Z" fill="#D95F02"/>
<g stroke="#7570B3" stroke-width="0.5" fill="none"><rect x="102.81" y="344.21" width="3.57" height="3.57"/><path d="M102.81,344.21L106.38,347.79M106.38,344.21L102.81,347.79"/></g>
<g stroke="#7570B3" stroke-width="0.5" fill="none"><rect x="99.81" y="349.21" width="3.57" height="3.57"/><path d="M99.81,349.21L103.38,352.79M103.38,349.21L99.81,352.79"/></g>
<g stroke="#7570B3" stroke-width="0.5" fill="none"><rect x="93.62" y="371.21" width="3.57" height="3.57"/><path d="M93.62,371.21L97.19,374.79M97.19,371.21L93.62,374.79"/></g>
<g stroke="#7570B3" stroke-width="0.5" fill="none"><rect x="77.81" y="374.81" width="3.57" height="3.57"/><path d="M77.81,374.81L81.38,378.39M81.38,374.81L77.81,378.39"/></g>
<g stroke="#7570B3" stroke-width="0.5" fill="none"><rect x="154.22" y="344.61" width="3.57" height="3.57"/><path d="M154.22,344.61L157.78,348.19M157.78,344.61L154.22,348.19"/></g>
<g stroke="#7570B3" stroke-width="0.5" fill="none"><rect x="124.62" y="369.21" width="3.57" height="3.57"/><path d="M124.62,369.21L128.19,372.79M128.19,369.21L124.62,372.79"/></g>
<g stroke="#E7298A" stroke-width="0.55" fill="none"><path d="M83.39,376.38L86.61,379.62M86.61,376.38L83.39,379.62M82.98,378.00L87.02,378.00M85.00,375.98L85.00,380.02"/></g>
<g stroke="#E7298A" stroke-width="0.55" fill="none"><path d="M108.39,352.78L111.61,356.01M111.61,352.78L108.39,356.01M107.98,354.40L112.02,354.40M110.00,352.38L110.00,356.42"/></g>
<g stroke="#E7298A" stroke-width="0.55" fill="none"><path d="M112.79,357.99L116.02,361.22M116.02,357.99L112.79,361.22M112.38,359.60L116.42,359.60M114.40,357.58L114.40,361.62"/></g>
<g stroke="#E7298A" stroke-width="0.55" fill="none"><path d="M103.98,366.99L107.21,370.22M107.21,366.99L103.98,370.22M103.58,368.60L107.62,368.60M105.60,366.58L105.60,370.62"/></g>
<g stroke="#E7298A" stroke-width="0.55" fill="none"><path d="M109.39,368.78L112.61,372.01M112.61,368.78L109.39,372.01M108.98,370.40L113.02,370.40M111.00,368.38L111.00,372.42"/></g>
<g stroke="#E7298A" stroke-width="0.55" fill="none"><path d="M170.38,375.78L173.62,379.01M173.62,375.78L170.38,379.01M169.98,377.40L174.02,377.40M172.00,375.38L172.00,379.42"/></g>
</g>
<line x1="104.90" y1="213.20" x2="104.90" y2="213.20" stroke="#E7298A" stroke-width="0.65"/>
<line x1="114.80" y1="213.20" x2="114.80" y2="213.20" stroke="#E7298A" stroke-width="0.65"/>
<rect x="104.90" y="211.00" width="9.90" height="4.40" fill="#fff" stroke="#E7298A" stroke-width="0.8"/>
<line x1="109.60" y1="211.00" x2="109.60" y2="215.40" stroke="#E7298A" stroke-width="0.8"/>
<circle cx="85.10" cy="213.20" r="1.10" fill="#E7298A"/>
<circle cx="105.50" cy="212.50" r="1.10" fill="#E7298A"/>
<circle cx="108.00" cy="214.00" r="1.10" fill="#E7298A"/>
<circle cx="111.00" cy="212.00" r="1.10" fill="#E7298A"/>
<circle cx="113.50" cy="213.50" r="1.10" fill="#E7298A"/>
<circle cx="171.60" cy="213.20" r="1.10" fill="#E7298A"/>
<line x1="79.60" y1="220.90" x2="97.10" y2="220.90" stroke="#7570B3" stroke-width="0.65"/>
<line x1="121.30" y1="220.90" x2="156.20" y2="220.90" stroke="#7570B3" stroke-width="0.65"/>
<rect x="97.10" y="218.25" width="24.20" height="5.30" fill="#fff" stroke="#7570B3" stroke-width="0.8"/>
<line x1="103.60" y1="218.25" x2="103.60" y2="223.55" stroke="#7570B3" stroke-width="0.8"/>
<circle cx="79.60" cy="220.90" r="1.10" fill="#7570B3"/>
<circle cx="95.50" cy="220.90" r="1.10" fill="#7570B3"/>
<circle cx="99.50" cy="219.60" r="1.10" fill="#7570B3"/>
<circle cx="103.60" cy="220.90" r="1.10" fill="#7570B3"/>
<circle cx="126.20" cy="219.60" r="1.10" fill="#7570B3"/>
<circle cx="156.20" cy="220.90" r="1.10" fill="#7570B3"/>
<line x1="120.90" y1="228.40" x2="120.90" y2="228.40" stroke="#D95F02" stroke-width="0.65"/>
<line x1="135.80" y1="228.40" x2="138.00" y2="228.40" stroke="#D95F02" stroke-width="0.65"/>
<rect x="120.90" y="225.65" width="14.90" height="5.50" fill="#fff" stroke="#D95F02" stroke-width="0.8"/>
<line x1="124.40" y1="225.65" x2="124.40" y2="231.15" stroke="#D95F02" stroke-width="0.8"/>
<circle cx="97.10" cy="228.40" r="1.10" fill="#D95F02"/>
<circle cx="121.50" cy="228.40" r="1.10" fill="#D95F02"/>
<circle cx="124.40" cy="228.40" r="1.10" fill="#D95F02"/>
<circle cx="138.00" cy="227.90" r="1.10" fill="#D95F02"/>
<circle cx="182.90" cy="228.40" r="1.10" fill="#D95F02"/>
<line x1="74.20" y1="235.70" x2="79.60" y2="235.70" stroke="#1B9E77" stroke-width="0.65"/>
<line x1="126.20" y1="235.70" x2="138.40" y2="235.70" stroke="#1B9E77" stroke-width="0.65"/>
<rect x="79.60" y="233.00" width="46.60" height="5.40" fill="#fff" stroke="#1B9E77" stroke-width="0.8"/>
<line x1="93.00" y1="233.00" x2="93.00" y2="238.40" stroke="#1B9E77" stroke-width="0.8"/>
<circle cx="74.20" cy="235.70" r="1.10" fill="#1B9E77"/>
<circle cx="80.70" cy="235.70" r="1.10" fill="#1B9E77"/>
<circle cx="104.50" cy="234.10" r="1.10" fill="#1B9E77"/>
<circle cx="133.20" cy="234.30" r="1.10" fill="#1B9E77"/>
<circle cx="138.40" cy="235.70" r="1.10" fill="#1B9E77"/>
<line x1="213.40" y1="270.70" x2="213.40" y2="283.50" stroke="#1B9E77" stroke-width="0.65"/>
<line x1="213.40" y1="305.60" x2="213.40" y2="312.60" stroke="#1B9E77" stroke-width="0.65"/>
<rect x="210.05" y="283.50" width="6.70" height="22.10" fill="#fff" stroke="#1B9E77" stroke-width="0.8"/>
<line x1="210.05" y1="302.10" x2="216.75" y2="302.10" stroke="#1B9E77" stroke-width="0.8"/>
<circle cx="213.00" cy="270.70" r="1.10" fill="#1B9E77"/>
<circle cx="215.20" cy="278.30" r="1.10" fill="#1B9E77"/>
<circle cx="213.70" cy="299.30" r="1.10" fill="#1B9E77"/>
<circle cx="215.20" cy="301.20" r="1.10" fill="#1B9E77"/>
<circle cx="214.90" cy="306.00" r="1.10" fill="#1B9E77"/>
<circle cx="213.70" cy="313.00" r="1.10" fill="#1B9E77"/>
<line x1="221.40" y1="322.10" x2="221.40" y2="333.90" stroke="#D95F02" stroke-width="0.65"/>
<line x1="221.40" y1="351.40" x2="221.40" y2="364.70" stroke="#D95F02" stroke-width="0.65"/>
<rect x="217.75" y="333.90" width="7.30" height="17.50" fill="#fff" stroke="#D95F02" stroke-width="0.8"/>
<line x1="217.75" y1="340.30" x2="225.05" y2="340.30" stroke="#D95F02" stroke-width="0.8"/>
<circle cx="220.40" cy="322.00" r="1.10" fill="#D95F02"/>
<circle cx="221.00" cy="333.20" r="1.10" fill="#D95F02"/>
<circle cx="221.40" cy="336.40" r="1.10" fill="#D95F02"/>
<circle cx="223.60" cy="341.10" r="1.10" fill="#D95F02"/>
<circle cx="222.10" cy="355.30" r="1.10" fill="#D95F02"/>
<circle cx="222.10" cy="364.70" r="1.10" fill="#D95F02"/>
<line x1="230.70" y1="346.10" x2="230.70" y2="347.10" stroke="#7570B3" stroke-width="0.65"/>
<line x1="230.70" y1="372.40" x2="230.70" y2="377.10" stroke="#7570B3" stroke-width="0.65"/>
<rect x="227.15" y="347.10" width="7.10" height="25.30" fill="#fff" stroke="#7570B3" stroke-width="0.8"/>
<line x1="227.15" y1="360.60" x2="234.25" y2="360.60" stroke="#7570B3" stroke-width="0.8"/>
<circle cx="230.60" cy="346.70" r="1.10" fill="#7570B3"/>
<circle cx="232.10" cy="350.40" r="1.10" fill="#7570B3"/>
<circle cx="230.60" cy="372.40" r="1.10" fill="#7570B3"/>
<circle cx="230.00" cy="377.10" r="1.10" fill="#7570B3"/>
<line x1="238.40" y1="353.60" x2="238.40" y2="361.70" stroke="#E7298A" stroke-width="0.65"/>
<line x1="238.40" y1="375.40" x2="238.40" y2="378.90" stroke="#E7298A" stroke-width="0.65"/>
<rect x="235.40" y="361.70" width="6.00" height="13.70" fill="#fff" stroke="#E7298A" stroke-width="0.8"/>
<line x1="235.40" y1="368.60" x2="241.40" y2="368.60" stroke="#E7298A" stroke-width="0.8"/>
<circle cx="239.60" cy="353.60" r="1.10" fill="#E7298A"/>
<circle cx="238.10" cy="367.50" r="1.10" fill="#E7298A"/>
<circle cx="239.60" cy="370.30" r="1.10" fill="#E7298A"/>
<circle cx="237.50" cy="377.10" r="1.10" fill="#E7298A"/>
<circle cx="239.60" cy="378.20" r="1.10" fill="#E7298A"/>
<rect x="21.60" y="209.10" width="173.80" height="31.50" fill="none" stroke="#b4b4b4" stroke-width="1"/>
<rect x="21.60" y="247.20" width="173.80" height="156.90" fill="none" stroke="#b4b4b4" stroke-width="1"/>
<rect x="208.30" y="247.20" width="34.90" height="156.90" fill="none" stroke="#b4b4b4" stroke-width="1"/>
<line x1="29.32" y1="240.60" x2="29.32" y2="242.20" stroke="#777" stroke-width="0.7"/>
<line x1="29.32" y1="404.10" x2="29.32" y2="405.70" stroke="#777" stroke-width="0.7"/>
<line x1="72.16" y1="240.60" x2="72.16" y2="242.20" stroke="#777" stroke-width="0.7"/>
<line x1="72.16" y1="404.10" x2="72.16" y2="405.70" stroke="#777" stroke-width="0.7"/>
<line x1="115.00" y1="240.60" x2="115.00" y2="242.20" stroke="#777" stroke-width="0.7"/>
<line x1="115.00" y1="404.10" x2="115.00" y2="405.70" stroke="#777" stroke-width="0.7"/>
<line x1="157.84" y1="240.60" x2="157.84" y2="242.20" stroke="#777" stroke-width="0.7"/>
<line x1="157.84" y1="404.10" x2="157.84" y2="405.70" stroke="#777" stroke-width="0.7"/>
<line x1="20.00" y1="386.90" x2="21.60" y2="386.90" stroke="#777" stroke-width="0.7"/>
<line x1="206.70" y1="386.90" x2="208.30" y2="386.90" stroke="#777" stroke-width="0.7"/>
<line x1="20.00" y1="341.30" x2="21.60" y2="341.30" stroke="#777" stroke-width="0.7"/>
<line x1="206.70" y1="341.30" x2="208.30" y2="341.30" stroke="#777" stroke-width="0.7"/>
<line x1="20.00" y1="295.70" x2="21.60" y2="295.70" stroke="#777" stroke-width="0.7"/>
<line x1="206.70" y1="295.70" x2="208.30" y2="295.70" stroke="#777" stroke-width="0.7"/>
<line x1="20.00" y1="250.10" x2="21.60" y2="250.10" stroke="#777" stroke-width="0.7"/>
<line x1="206.70" y1="250.10" x2="208.30" y2="250.10" stroke="#777" stroke-width="0.7"/>
<rect x="251.11" y="294.78" width="7.92" height="7.59" fill="#1B9E77" fill-opacity="0.1" stroke="#1B9E77" stroke-width="0.7"/>
<circle cx="255.07" cy="298.58" r="1.62" fill="#1B9E77"/>
<rect x="251.11" y="303.14" width="7.92" height="7.59" fill="#D95F02" fill-opacity="0.1" stroke="#D95F02" stroke-width="0.7"/>
<path d="M255.07,304.79 L257.37,308.44 L252.77,308.44Z" fill="#D95F02"/>
<rect x="251.11" y="311.50" width="7.92" height="7.59" fill="#7570B3" fill-opacity="0.1" stroke="#7570B3" stroke-width="0.7"/>
<g stroke="#7570B3" stroke-width="0.5" fill="none"><rect x="253.28" y="313.51" width="3.58" height="3.58"/><path d="M253.28,313.51L256.86,317.09M256.86,313.51L253.28,317.09"/></g>
<rect x="251.11" y="319.86" width="7.92" height="7.59" fill="#E7298A" fill-opacity="0.1" stroke="#E7298A" stroke-width="0.7"/>
<g stroke="#E7298A" stroke-width="0.55" fill="none"><path d="M253.45,322.04L256.69,325.28M256.69,322.04L253.45,325.28M253.05,323.66L257.09,323.66M255.07,321.64L255.07,325.68"/></g>
<line x1="310.46" y1="208.50" x2="310.46" y2="237.30" stroke="#f6f6f6" stroke-width="0.5"/>
<line x1="354.42" y1="208.50" x2="354.42" y2="237.30" stroke="#f6f6f6" stroke-width="0.5"/>
<line x1="398.38" y1="208.50" x2="398.38" y2="237.30" stroke="#f6f6f6" stroke-width="0.5"/>
<line x1="442.34" y1="208.50" x2="442.34" y2="237.30" stroke="#f6f6f6" stroke-width="0.5"/>
<line x1="332.44" y1="208.50" x2="332.44" y2="237.30" stroke="#ececec" stroke-width="0.7"/>
<line x1="376.40" y1="208.50" x2="376.40" y2="237.30" stroke="#ececec" stroke-width="0.7"/>
<line x1="420.36" y1="208.50" x2="420.36" y2="237.30" stroke="#ececec" stroke-width="0.7"/>
<line x1="464.32" y1="208.50" x2="464.32" y2="237.30" stroke="#ececec" stroke-width="0.7"/>
<line x1="310.46" y1="243.30" x2="310.46" y2="387.30" stroke="#f6f6f6" stroke-width="0.5"/>
<line x1="354.42" y1="243.30" x2="354.42" y2="387.30" stroke="#f6f6f6" stroke-width="0.5"/>
<line x1="398.38" y1="243.30" x2="398.38" y2="387.30" stroke="#f6f6f6" stroke-width="0.5"/>
<line x1="442.34" y1="243.30" x2="442.34" y2="387.30" stroke="#f6f6f6" stroke-width="0.5"/>
<line x1="332.44" y1="243.30" x2="332.44" y2="387.30" stroke="#ececec" stroke-width="0.7"/>
<line x1="376.40" y1="243.30" x2="376.40" y2="387.30" stroke="#ececec" stroke-width="0.7"/>
<line x1="420.36" y1="243.30" x2="420.36" y2="387.30" stroke="#ececec" stroke-width="0.7"/>
<line x1="464.32" y1="243.30" x2="464.32" y2="387.30" stroke="#ececec" stroke-width="0.7"/>
<line x1="295.40" y1="371.00" x2="477.80" y2="371.00" stroke="#f6f6f6" stroke-width="0.5"/>
<line x1="295.40" y1="337.80" x2="477.80" y2="337.80" stroke="#f6f6f6" stroke-width="0.5"/>
<line x1="295.40" y1="304.60" x2="477.80" y2="304.60" stroke="#f6f6f6" stroke-width="0.5"/>
<line x1="295.40" y1="271.40" x2="477.80" y2="271.40" stroke="#f6f6f6" stroke-width="0.5"/>
<line x1="295.40" y1="354.40" x2="477.80" y2="354.40" stroke="#ececec" stroke-width="0.7"/>
<line x1="295.40" y1="321.20" x2="477.80" y2="321.20" stroke="#ececec" stroke-width="0.7"/>
<line x1="295.40" y1="288.00" x2="477.80" y2="288.00" stroke="#ececec" stroke-width="0.7"/>
<line x1="295.40" y1="254.80" x2="477.80" y2="254.80" stroke="#ececec" stroke-width="0.7"/>
<line x1="489.50" y1="371.00" x2="525.70" y2="371.00" stroke="#f6f6f6" stroke-width="0.5"/>
<line x1="489.50" y1="337.80" x2="525.70" y2="337.80" stroke="#f6f6f6" stroke-width="0.5"/>
<line x1="489.50" y1="304.60" x2="525.70" y2="304.60" stroke="#f6f6f6" stroke-width="0.5"/>
<line x1="489.50" y1="271.40" x2="525.70" y2="271.40" stroke="#f6f6f6" stroke-width="0.5"/>
<line x1="489.50" y1="354.40" x2="525.70" y2="354.40" stroke="#ececec" stroke-width="0.7"/>
<line x1="489.50" y1="321.20" x2="525.70" y2="321.20" stroke="#ececec" stroke-width="0.7"/>
<line x1="489.50" y1="288.00" x2="525.70" y2="288.00" stroke="#ececec" stroke-width="0.7"/>
<line x1="489.50" y1="254.80" x2="525.70" y2="254.80" stroke="#ececec" stroke-width="0.7"/>
<line x1="295.40" y1="212.40" x2="477.80" y2="212.40" stroke="#ececec" stroke-width="0.7"/>
<line x1="295.40" y1="219.40" x2="477.80" y2="219.40" stroke="#ececec" stroke-width="0.7"/>
<line x1="295.40" y1="226.30" x2="477.80" y2="226.30" stroke="#ececec" stroke-width="0.7"/>
<line x1="295.40" y1="233.10" x2="477.80" y2="233.10" stroke="#ececec" stroke-width="0.7"/>
<line x1="493.90" y1="243.30" x2="493.90" y2="387.30" stroke="#ececec" stroke-width="0.7"/>
<line x1="502.90" y1="243.30" x2="502.90" y2="387.30" stroke="#ececec" stroke-width="0.7"/>
<line x1="511.80" y1="243.30" x2="511.80" y2="387.30" stroke="#ececec" stroke-width="0.7"/>
<line x1="520.70" y1="243.30" x2="520.70" y2="387.30" stroke="#ececec" stroke-width="0.7"/>
<defs><clipPath id="clipbr"><rect x="295.4" y="243.3" width="182.40000000000003" height="144.0"/></clipPath></defs>
<g clip-path="url(#clipbr)">
<ellipse cx="376.36" cy="309.90" rx="60.10" ry="18.48" transform="rotate(-88.37 376.36 309.90)" fill="#D95F02" fill-opacity="0.085" stroke="#D95F02" stroke-opacity="0.75" stroke-width="1.1"/>
<ellipse cx="335.19" cy="327.27" rx="52.44" ry="27.79" transform="rotate(-69.24 335.19 327.27)" fill="#E7298A" fill-opacity="0.085" stroke="#E7298A" stroke-opacity="0.75" stroke-width="1.1"/>
<ellipse cx="340.31" cy="330.23" rx="51.82" ry="17.00" transform="rotate(-72.90 340.31 330.23)" fill="#7570B3" fill-opacity="0.085" stroke="#7570B3" stroke-opacity="0.75" stroke-width="1.1"/>
<ellipse cx="454.26" cy="330.33" rx="37.59" ry="12.25" transform="rotate(-73.67 454.26 330.33)" fill="#1B9E77" fill-opacity="0.085" stroke="#1B9E77" stroke-opacity="0.75" stroke-width="1.1"/>
<circle cx="461.80" cy="311.20" r="1.61" fill="#1B9E77"/>
<circle cx="458.40" cy="315.40" r="1.61" fill="#1B9E77"/>
<circle cx="444.80" cy="322.20" r="1.61" fill="#1B9E77"/>
<circle cx="458.10" cy="338.40" r="1.61" fill="#1B9E77"/>
<circle cx="450.40" cy="342.10" r="1.61" fill="#1B9E77"/>
<circle cx="447.90" cy="343.30" r="1.61" fill="#1B9E77"/>
<path d="M380.70,260.16 L383.00,263.80 L378.40,263.80Z" fill="#D95F02"/>
<path d="M370.90,289.96 L373.19,293.60 L368.60,293.60Z" fill="#D95F02"/>
<path d="M364.60,315.56 L366.90,319.20 L362.31,319.20Z" fill="#D95F02"/>
<path d="M380.20,313.36 L382.50,317.00 L377.90,317.00Z" fill="#D95F02"/>
<path d="M384.40,315.16 L386.69,318.80 L382.10,318.80Z" fill="#D95F02"/>
<path d="M374.70,334.96 L377.00,338.60 L372.40,338.60Z" fill="#D95F02"/>
<g stroke="#7570B3" stroke-width="0.5" fill="none"><rect x="350.71" y="280.51" width="3.57" height="3.57"/><path d="M350.71,280.51L354.29,284.09M354.29,280.51L350.71,284.09"/></g>
<g stroke="#7570B3" stroke-width="0.5" fill="none"><rect x="333.91" y="317.01" width="3.57" height="3.57"/><path d="M333.91,317.01L337.49,320.59M337.49,317.01L333.91,320.59"/></g>
<g stroke="#7570B3" stroke-width="0.5" fill="none"><rect x="347.61" y="327.41" width="3.57" height="3.57"/><path d="M347.61,327.41L351.19,330.99M351.19,327.41L347.61,330.99"/></g>
<g stroke="#7570B3" stroke-width="0.5" fill="none"><rect x="335.71" y="337.21" width="3.57" height="3.57"/><path d="M335.71,337.21L339.29,340.79M339.29,337.21L335.71,340.79"/></g>
<g stroke="#7570B3" stroke-width="0.5" fill="none"><rect x="340.51" y="336.11" width="3.57" height="3.57"/><path d="M340.51,336.11L344.09,339.69M344.09,336.11L340.51,339.69"/></g>
<g stroke="#7570B3" stroke-width="0.5" fill="none"><rect x="325.31" y="347.61" width="3.57" height="3.57"/><path d="M325.31,347.61L328.89,351.19M328.89,347.61L325.31,351.19"/></g>
<g stroke="#E7298A" stroke-width="0.55" fill="none"><path d="M348.78,273.19L352.01,276.42M352.01,273.19L348.78,276.42M348.38,274.80L352.42,274.80M350.40,272.78L350.40,276.82"/></g>
<g stroke="#E7298A" stroke-width="0.55" fill="none"><path d="M314.49,323.08L317.72,326.31M317.72,323.08L314.49,326.31M314.08,324.70L318.12,324.70M316.10,322.68L316.10,326.72"/></g>
<g stroke="#E7298A" stroke-width="0.55" fill="none"><path d="M329.69,326.19L332.92,329.42M332.92,326.19L329.69,329.42M329.28,327.80L333.32,327.80M331.30,325.78L331.30,329.82"/></g>
<g stroke="#E7298A" stroke-width="0.55" fill="none"><path d="M339.19,326.19L342.42,329.42M342.42,326.19L339.19,329.42M338.78,327.80L342.82,327.80M340.80,325.78L340.80,329.82"/></g>
<g stroke="#E7298A" stroke-width="0.55" fill="none"><path d="M349.28,330.38L352.51,333.62M352.51,330.38L349.28,333.62M348.88,332.00L352.92,332.00M350.90,329.98L350.90,334.02"/></g>
<g stroke="#E7298A" stroke-width="0.55" fill="none"><path d="M324.88,347.78L328.12,351.01M328.12,347.78L324.88,351.01M324.48,349.40L328.52,349.40M326.50,347.38L326.50,351.42"/></g>
</g>
<line x1="315.70" y1="212.40" x2="327.20" y2="212.40" stroke="#E7298A" stroke-width="0.65"/>
<line x1="348.90" y1="212.40" x2="351.70" y2="212.40" stroke="#E7298A" stroke-width="0.65"/>
<rect x="327.20" y="210.20" width="21.70" height="4.40" fill="#fff" stroke="#E7298A" stroke-width="0.8"/>
<line x1="337.00" y1="210.20" x2="337.00" y2="214.60" stroke="#E7298A" stroke-width="0.8"/>
<circle cx="315.70" cy="213.50" r="1.10" fill="#E7298A"/>
<circle cx="330.50" cy="212.40" r="1.10" fill="#E7298A"/>
<circle cx="332.90" cy="212.40" r="1.10" fill="#E7298A"/>
<circle cx="342.40" cy="212.40" r="1.10" fill="#E7298A"/>
<circle cx="351.70" cy="212.40" r="1.10" fill="#E7298A"/>
<line x1="326.40" y1="219.50" x2="335.40" y2="219.50" stroke="#7570B3" stroke-width="0.65"/>
<line x1="348.00" y1="219.50" x2="353.90" y2="219.50" stroke="#7570B3" stroke-width="0.65"/>
<rect x="335.40" y="217.30" width="12.60" height="4.40" fill="#fff" stroke="#7570B3" stroke-width="0.8"/>
<line x1="340.30" y1="217.30" x2="340.30" y2="221.70" stroke="#7570B3" stroke-width="0.8"/>
<circle cx="326.40" cy="219.50" r="1.10" fill="#7570B3"/>
<circle cx="336.50" cy="219.50" r="1.10" fill="#7570B3"/>
<circle cx="339.10" cy="219.00" r="1.10" fill="#7570B3"/>
<circle cx="341.90" cy="218.80" r="1.10" fill="#7570B3"/>
<circle cx="350.10" cy="219.50" r="1.10" fill="#7570B3"/>
<circle cx="353.90" cy="219.50" r="1.10" fill="#7570B3"/>
<line x1="364.30" y1="226.30" x2="371.90" y2="226.30" stroke="#D95F02" stroke-width="0.65"/>
<line x1="380.70" y1="226.30" x2="385.60" y2="226.30" stroke="#D95F02" stroke-width="0.65"/>
<rect x="371.90" y="223.85" width="8.80" height="4.90" fill="#fff" stroke="#D95F02" stroke-width="0.8"/>
<line x1="375.10" y1="223.85" x2="375.10" y2="228.75" stroke="#D95F02" stroke-width="0.8"/>
<circle cx="364.30" cy="225.00" r="1.10" fill="#D95F02"/>
<circle cx="375.10" cy="226.30" r="1.10" fill="#D95F02"/>
<circle cx="379.50" cy="226.30" r="1.10" fill="#D95F02"/>
<circle cx="385.60" cy="226.30" r="1.10" fill="#D95F02"/>
<line x1="444.50" y1="233.10" x2="448.60" y2="233.10" stroke="#1B9E77" stroke-width="0.65"/>
<line x1="458.70" y1="233.10" x2="462.00" y2="233.10" stroke="#1B9E77" stroke-width="0.65"/>
<rect x="448.60" y="230.95" width="10.10" height="4.30" fill="#fff" stroke="#1B9E77" stroke-width="0.8"/>
<line x1="454.40" y1="230.95" x2="454.40" y2="235.25" stroke="#1B9E77" stroke-width="0.8"/>
<circle cx="444.90" cy="231.60" r="1.10" fill="#1B9E77"/>
<circle cx="450.50" cy="233.10" r="1.10" fill="#1B9E77"/>
<circle cx="457.10" cy="233.10" r="1.10" fill="#1B9E77"/>
<circle cx="462.00" cy="233.10" r="1.10" fill="#1B9E77"/>
<line x1="494.85" y1="310.50" x2="494.85" y2="317.20" stroke="#1B9E77" stroke-width="0.65"/>
<line x1="494.85" y1="340.20" x2="494.85" y2="344.00" stroke="#1B9E77" stroke-width="0.65"/>
<rect x="491.70" y="317.20" width="6.30" height="23.00" fill="#fff" stroke="#1B9E77" stroke-width="0.8"/>
<line x1="491.70" y1="330.30" x2="498.00" y2="330.30" stroke="#1B9E77" stroke-width="0.8"/>
<circle cx="494.40" cy="310.50" r="1.10" fill="#1B9E77"/>
<circle cx="495.90" cy="314.70" r="1.10" fill="#1B9E77"/>
<circle cx="494.40" cy="322.60" r="1.10" fill="#1B9E77"/>
<circle cx="495.00" cy="338.10" r="1.10" fill="#1B9E77"/>
<circle cx="495.50" cy="342.90" r="1.10" fill="#1B9E77"/>
<line x1="503.55" y1="292.60" x2="503.55" y2="298.40" stroke="#D95F02" stroke-width="0.65"/>
<line x1="503.55" y1="317.20" x2="503.55" y2="337.30" stroke="#D95F02" stroke-width="0.65"/>
<rect x="500.10" y="298.40" width="6.90" height="18.80" fill="#fff" stroke="#D95F02" stroke-width="0.8"/>
<line x1="500.10" y1="316.30" x2="507.00" y2="316.30" stroke="#D95F02" stroke-width="0.8"/>
<circle cx="503.80" cy="292.60" r="1.10" fill="#D95F02"/>
<circle cx="502.80" cy="316.30" r="1.10" fill="#D95F02"/>
<circle cx="503.80" cy="316.80" r="1.10" fill="#D95F02"/>
<circle cx="503.40" cy="337.30" r="1.10" fill="#D95F02"/>
<circle cx="502.00" cy="262.60" r="1.10" fill="#D95F02"/>
<line x1="512.00" y1="320.90" x2="512.00" y2="320.90" stroke="#7570B3" stroke-width="0.65"/>
<line x1="512.00" y1="338.70" x2="512.00" y2="350.20" stroke="#7570B3" stroke-width="0.65"/>
<rect x="509.10" y="320.90" width="5.80" height="17.80" fill="#fff" stroke="#7570B3" stroke-width="0.8"/>
<line x1="509.10" y1="333.50" x2="514.90" y2="333.50" stroke="#7570B3" stroke-width="0.8"/>
<circle cx="512.20" cy="320.90" r="1.10" fill="#7570B3"/>
<circle cx="511.80" cy="329.30" r="1.10" fill="#7570B3"/>
<circle cx="511.80" cy="338.70" r="1.10" fill="#7570B3"/>
<circle cx="512.20" cy="340.80" r="1.10" fill="#7570B3"/>
<circle cx="511.80" cy="350.20" r="1.10" fill="#7570B3"/>
<circle cx="512.10" cy="281.90" r="1.10" fill="#7570B3"/>
<line x1="520.90" y1="324.70" x2="520.90" y2="324.70" stroke="#E7298A" stroke-width="0.65"/>
<line x1="520.90" y1="330.30" x2="520.90" y2="330.30" stroke="#E7298A" stroke-width="0.65"/>
<rect x="518.10" y="324.70" width="5.60" height="5.60" fill="#fff" stroke="#E7298A" stroke-width="0.8"/>
<line x1="518.10" y1="326.80" x2="523.70" y2="326.80" stroke="#E7298A" stroke-width="0.8"/>
<circle cx="520.60" cy="325.10" r="1.10" fill="#E7298A"/>
<circle cx="521.60" cy="328.90" r="1.10" fill="#E7298A"/>
<circle cx="520.60" cy="330.30" r="1.10" fill="#E7298A"/>
<circle cx="522.30" cy="348.80" r="1.10" fill="#E7298A"/>
<circle cx="519.80" cy="275.10" r="1.10" fill="#E7298A"/>
<rect x="295.40" y="208.50" width="182.40" height="28.80" fill="none" stroke="#b4b4b4" stroke-width="1"/>
<rect x="295.40" y="243.30" width="182.40" height="144.00" fill="none" stroke="#b4b4b4" stroke-width="1"/>
<rect x="489.50" y="243.30" width="36.20" height="144.00" fill="none" stroke="#b4b4b4" stroke-width="1"/>
<line x1="332.44" y1="237.30" x2="332.44" y2="238.90" stroke="#777" stroke-width="0.7"/>
<line x1="332.44" y1="387.30" x2="332.44" y2="388.90" stroke="#777" stroke-width="0.7"/>
<line x1="376.40" y1="237.30" x2="376.40" y2="238.90" stroke="#777" stroke-width="0.7"/>
<line x1="376.40" y1="387.30" x2="376.40" y2="388.90" stroke="#777" stroke-width="0.7"/>
<line x1="420.36" y1="237.30" x2="420.36" y2="238.90" stroke="#777" stroke-width="0.7"/>
<line x1="420.36" y1="387.30" x2="420.36" y2="388.90" stroke="#777" stroke-width="0.7"/>
<line x1="464.32" y1="237.30" x2="464.32" y2="238.90" stroke="#777" stroke-width="0.7"/>
<line x1="464.32" y1="387.30" x2="464.32" y2="388.90" stroke="#777" stroke-width="0.7"/>
<line x1="293.80" y1="354.40" x2="295.40" y2="354.40" stroke="#777" stroke-width="0.7"/>
<line x1="487.90" y1="354.40" x2="489.50" y2="354.40" stroke="#777" stroke-width="0.7"/>
<line x1="293.80" y1="321.20" x2="295.40" y2="321.20" stroke="#777" stroke-width="0.7"/>
<line x1="487.90" y1="321.20" x2="489.50" y2="321.20" stroke="#777" stroke-width="0.7"/>
<line x1="293.80" y1="288.00" x2="295.40" y2="288.00" stroke="#777" stroke-width="0.7"/>
<line x1="487.90" y1="288.00" x2="489.50" y2="288.00" stroke="#777" stroke-width="0.7"/>
<line x1="293.80" y1="254.80" x2="295.40" y2="254.80" stroke="#777" stroke-width="0.7"/>
<line x1="487.90" y1="254.80" x2="489.50" y2="254.80" stroke="#777" stroke-width="0.7"/>
<rect x="533.20" y="287.15" width="7.20" height="6.90" fill="#1B9E77" fill-opacity="0.1" stroke="#1B9E77" stroke-width="0.7"/>
<circle cx="536.80" cy="290.60" r="1.47" fill="#1B9E77"/>
<rect x="533.20" y="294.75" width="7.20" height="6.90" fill="#D95F02" fill-opacity="0.1" stroke="#D95F02" stroke-width="0.7"/>
<path d="M536.80,296.25 L538.89,299.57 L534.71,299.57Z" fill="#D95F02"/>
<rect x="533.20" y="302.35" width="7.20" height="6.90" fill="#7570B3" fill-opacity="0.1" stroke="#7570B3" stroke-width="0.7"/>
<g stroke="#7570B3" stroke-width="0.5" fill="none"><rect x="535.17" y="304.17" width="3.26" height="3.26"/><path d="M535.17,304.17L538.43,307.43M538.43,304.17L535.17,307.43"/></g>
<rect x="533.20" y="309.95" width="7.20" height="6.90" fill="#E7298A" fill-opacity="0.1" stroke="#E7298A" stroke-width="0.7"/>
<g stroke="#E7298A" stroke-width="0.55" fill="none"><path d="M535.33,311.93L538.27,314.87M538.27,311.93L535.33,314.87M534.96,313.40L538.64,313.40M536.80,311.56L536.80,315.24"/></g>
</svg>
<svg id="t" width="550" height="420" viewBox="0 0 550 420">
<text x="62.20" y="8.10" font-size="5.0" text-anchor="middle" fill="#1e1e1e" >d</text>
<text x="80.30" y="14.40" font-size="5.0" text-anchor="middle" fill="#1e1e1e" >c</text>
<text x="111.00" y="21.60" font-size="5.0" text-anchor="middle" fill="#1e1e1e" >b</text>
<text x="185.20" y="27.40" font-size="5.0" text-anchor="middle" fill="#1e1e1e" >a</text>
<text x="217.70" y="72.70" font-size="5.0" text-anchor="middle" fill="#1e1e1e" >ab</text>
<text x="235.70" y="73.90" font-size="5.0" text-anchor="middle" fill="#1e1e1e" >b</text>
<text x="244.30" y="64.50" font-size="5.0" text-anchor="middle" fill="#1e1e1e" >b</text>
<text x="28.92" y="35.40" font-size="4.5" text-anchor="middle" fill="#262626" >-0.25</text>
<text x="28.92" y="185.10" font-size="4.5" text-anchor="middle" fill="#262626" >-0.25</text>
<text x="89.30" y="35.40" font-size="4.5" text-anchor="middle" fill="#262626" >0.00</text>
<text x="89.30" y="185.10" font-size="4.5" text-anchor="middle" fill="#262626" >0.00</text>
<text x="149.68" y="35.40" font-size="4.5" text-anchor="middle" fill="#262626" >0.25</text>
<text x="149.68" y="185.10" font-size="4.5" text-anchor="middle" fill="#262626" >0.25</text>
<text x="17.10" y="181.30" font-size="4.5" text-anchor="end" fill="#262626" >-0.50</text>
<text x="211.40" y="181.30" font-size="4.5" text-anchor="end" fill="#262626" >-0.50</text>
<text x="17.10" y="144.50" font-size="4.5" text-anchor="end" fill="#262626" >-0.25</text>
<text x="211.40" y="144.50" font-size="4.5" text-anchor="end" fill="#262626" >-0.25</text>
<text x="17.10" y="107.70" font-size="4.5" text-anchor="end" fill="#262626" >0.00</text>
<text x="211.40" y="107.70" font-size="4.5" text-anchor="end" fill="#262626" >0.00</text>
<text x="17.10" y="70.90" font-size="4.5" text-anchor="end" fill="#262626" >0.25</text>
<text x="211.40" y="70.90" font-size="4.5" text-anchor="end" fill="#262626" >0.25</text>
<text x="96.10" y="190.90" font-size="4.9" text-anchor="start" fill="#2e2e2e" textLength="28.90" lengthAdjust="spacingAndGlyphs" >PCo1 [15.7%]</text>
<text x="0" y="0" font-size="4.9" fill="#2e2e2e"  text-anchor="middle" transform="translate(6.00,108.50) rotate(-90)">PCo2 [12.8%]</text>
<text x="213.30" y="28.10" font-size="5.6" text-anchor="start" fill="#4a4a4a" textLength="37.50" lengthAdjust="spacingAndGlyphs">Actinobacteriota</text>
<text x="256.80" y="76.90" font-size="5.2" text-anchor="start" fill="#222" >Group</text>
<text x="266.60" y="85.50" font-size="4.6" text-anchor="start" fill="#333" >A1</text>
<text x="266.60" y="93.10" font-size="4.6" text-anchor="start" fill="#333" >A2</text>
<text x="266.60" y="100.70" font-size="4.6" text-anchor="start" fill="#333" >A3</text>
<text x="266.60" y="108.30" font-size="4.6" text-anchor="start" fill="#333" >A4</text>
<text x="439.30" y="7.40" font-size="5.0" text-anchor="middle" fill="#1e1e1e" >a</text>
<text x="433.90" y="14.40" font-size="5.0" text-anchor="middle" fill="#1e1e1e" >a</text>
<text x="458.90" y="20.80" font-size="5.0" text-anchor="middle" fill="#1e1e1e" >a</text>
<text x="429.10" y="27.80" font-size="5.0" text-anchor="middle" fill="#1e1e1e" >a</text>
<text x="502.30" y="60.40" font-size="5.0" text-anchor="middle" fill="#1e1e1e" >b</text>
<text x="511.70" y="52.40" font-size="5.0" text-anchor="middle" fill="#1e1e1e" >ab</text>
<text x="494.00" y="124.60" font-size="5.0" text-anchor="middle" fill="#1e1e1e" >c</text>
<text x="292.98" y="35.50" font-size="4.5" text-anchor="middle" fill="#262626" >-0.6</text>
<text x="292.98" y="185.15" font-size="4.5" text-anchor="middle" fill="#262626" >-0.6</text>
<text x="337.74" y="35.50" font-size="4.5" text-anchor="middle" fill="#262626" >-0.3</text>
<text x="337.74" y="185.15" font-size="4.5" text-anchor="middle" fill="#262626" >-0.3</text>
<text x="382.50" y="35.50" font-size="4.5" text-anchor="middle" fill="#262626" >0.0</text>
<text x="382.50" y="185.15" font-size="4.5" text-anchor="middle" fill="#262626" >0.0</text>
<text x="427.26" y="35.50" font-size="4.5" text-anchor="middle" fill="#262626" >0.3</text>
<text x="427.26" y="185.15" font-size="4.5" text-anchor="middle" fill="#262626" >0.3</text>
<text x="472.02" y="35.50" font-size="4.5" text-anchor="middle" fill="#262626" >0.6</text>
<text x="472.02" y="185.15" font-size="4.5" text-anchor="middle" fill="#262626" >0.6</text>
<text x="291.00" y="170.70" font-size="4.5" text-anchor="end" fill="#262626" >-0.4</text>
<text x="486.50" y="170.70" font-size="4.5" text-anchor="end" fill="#262626" >-0.4</text>
<text x="291.00" y="129.60" font-size="4.5" text-anchor="end" fill="#262626" >-0.2</text>
<text x="486.50" y="129.60" font-size="4.5" text-anchor="end" fill="#262626" >-0.2</text>
<text x="291.00" y="88.50" font-size="4.5" text-anchor="end" fill="#262626" >0.0</text>
<text x="486.50" y="88.50" font-size="4.5" text-anchor="end" fill="#262626" >0.0</text>
<text x="291.00" y="47.40" font-size="4.5" text-anchor="end" fill="#262626" >0.2</text>
<text x="486.50" y="47.40" font-size="4.5" text-anchor="end" fill="#262626" >0.2</text>
<text x="371.80" y="191.00" font-size="4.9" text-anchor="start" fill="#2e2e2e" textLength="29.10" lengthAdjust="spacingAndGlyphs" >PCo1 [16.7%]</text>
<text x="0" y="0" font-size="4.9" fill="#2e2e2e"  text-anchor="middle" transform="translate(281.00,108.53) rotate(-90)">PCo2 [12.4%]</text>
<text x="488.90" y="28.80" font-size="5.6" text-anchor="start" fill="#4a4a4a" textLength="36.00" lengthAdjust="spacingAndGlyphs">Acidobacteriota</text>
<text x="533.10" y="76.90" font-size="5.2" text-anchor="start" fill="#222" >Group</text>
<text x="542.90" y="85.50" font-size="4.6" text-anchor="start" fill="#333" >A1</text>
<text x="542.90" y="93.10" font-size="4.6" text-anchor="start" fill="#333" >A2</text>
<text x="542.90" y="100.70" font-size="4.6" text-anchor="start" fill="#333" >A3</text>
<text x="542.90" y="108.30" font-size="4.6" text-anchor="start" fill="#333" >A4</text>
<text x="177.70" y="214.80" font-size="5.0" text-anchor="middle" fill="#1e1e1e" >a</text>
<text x="161.40" y="222.50" font-size="5.0" text-anchor="middle" fill="#1e1e1e" >a</text>
<text x="143.60" y="237.30" font-size="5.0" text-anchor="middle" fill="#1e1e1e" >a</text>
<text x="213.30" y="267.60" font-size="5.0" text-anchor="middle" fill="#1e1e1e" >a</text>
<text x="221.40" y="318.70" font-size="5.0" text-anchor="middle" fill="#1e1e1e" >b</text>
<text x="230.00" y="342.30" font-size="5.0" text-anchor="middle" fill="#1e1e1e" >c</text>
<text x="238.60" y="350.50" font-size="5.0" text-anchor="middle" fill="#1e1e1e" >c</text>
<text x="29.32" y="245.60" font-size="4.5" text-anchor="middle" fill="#262626" >-0.6</text>
<text x="29.32" y="410.10" font-size="4.5" text-anchor="middle" fill="#262626" >-0.6</text>
<text x="72.16" y="245.60" font-size="4.5" text-anchor="middle" fill="#262626" >-0.3</text>
<text x="72.16" y="410.10" font-size="4.5" text-anchor="middle" fill="#262626" >-0.3</text>
<text x="115.00" y="245.60" font-size="4.5" text-anchor="middle" fill="#262626" >0.0</text>
<text x="115.00" y="410.10" font-size="4.5" text-anchor="middle" fill="#262626" >0.0</text>
<text x="157.84" y="245.60" font-size="4.5" text-anchor="middle" fill="#262626" >0.3</text>
<text x="157.84" y="410.10" font-size="4.5" text-anchor="middle" fill="#262626" >0.3</text>
<text x="19.40" y="388.40" font-size="4.5" text-anchor="end" fill="#262626" >-0.25</text>
<text x="206.10" y="388.40" font-size="4.5" text-anchor="end" fill="#262626" >-0.25</text>
<text x="19.40" y="342.80" font-size="4.5" text-anchor="end" fill="#262626" >0.00</text>
<text x="206.10" y="342.80" font-size="4.5" text-anchor="end" fill="#262626" >0.00</text>
<text x="19.40" y="297.20" font-size="4.5" text-anchor="end" fill="#262626" >0.25</text>
<text x="206.10" y="297.20" font-size="4.5" text-anchor="end" fill="#262626" >0.25</text>
<text x="19.40" y="251.60" font-size="4.5" text-anchor="end" fill="#262626" >0.50</text>
<text x="206.10" y="251.60" font-size="4.5" text-anchor="end" fill="#262626" >0.50</text>
<text x="94.80" y="416.30" font-size="4.9" text-anchor="start" fill="#2e2e2e" textLength="27.70" lengthAdjust="spacingAndGlyphs" >PCo1 [16%]</text>
<text x="0" y="0" font-size="4.9" fill="#2e2e2e"  text-anchor="middle" transform="translate(6.00,325.65) rotate(-90)">PCo2 [12.2%]</text>
<text x="214.50" y="239.70" font-size="5.6" text-anchor="start" fill="#4a4a4a" textLength="30.50" lengthAdjust="spacingAndGlyphs">Chloroflexia</text>
<text x="251.00" y="290.99" font-size="5.72" text-anchor="start" fill="#222" >Group</text>
<text x="261.78" y="300.45" font-size="5.059999999999999" text-anchor="start" fill="#333" >A1</text>
<text x="261.78" y="308.81" font-size="5.059999999999999" text-anchor="start" fill="#333" >A2</text>
<text x="261.78" y="317.17" font-size="5.059999999999999" text-anchor="start" fill="#333" >A3</text>
<text x="261.78" y="325.53" font-size="5.059999999999999" text-anchor="start" fill="#333" >A4</text>
<text x="357.80" y="214.00" font-size="5.0" text-anchor="middle" fill="#1e1e1e" >c</text>
<text x="360.40" y="221.10" font-size="5.0" text-anchor="middle" fill="#1e1e1e" >c</text>
<text x="392.10" y="227.90" font-size="5.0" text-anchor="middle" fill="#1e1e1e" >b</text>
<text x="469.10" y="234.70" font-size="5.0" text-anchor="middle" fill="#1e1e1e" >a</text>
<text x="494.40" y="307.90" font-size="5.0" text-anchor="middle" fill="#1e1e1e" >a</text>
<text x="502.90" y="260.30" font-size="5.0" text-anchor="middle" fill="#1e1e1e" >a</text>
<text x="512.10" y="280.00" font-size="5.0" text-anchor="middle" fill="#1e1e1e" >a</text>
<text x="520.70" y="272.80" font-size="5.0" text-anchor="middle" fill="#1e1e1e" >a</text>
<text x="332.44" y="242.30" font-size="4.5" text-anchor="middle" fill="#262626" >-0.2</text>
<text x="332.44" y="391.80" font-size="4.5" text-anchor="middle" fill="#262626" >-0.2</text>
<text x="376.40" y="242.30" font-size="4.5" text-anchor="middle" fill="#262626" >0.0</text>
<text x="376.40" y="391.80" font-size="4.5" text-anchor="middle" fill="#262626" >0.0</text>
<text x="420.36" y="242.30" font-size="4.5" text-anchor="middle" fill="#262626" >0.2</text>
<text x="420.36" y="391.80" font-size="4.5" text-anchor="middle" fill="#262626" >0.2</text>
<text x="464.32" y="242.30" font-size="4.5" text-anchor="middle" fill="#262626" >0.4</text>
<text x="464.32" y="391.80" font-size="4.5" text-anchor="middle" fill="#262626" >0.4</text>
<text x="293.20" y="355.90" font-size="4.5" text-anchor="end" fill="#262626" >-0.25</text>
<text x="487.30" y="355.90" font-size="4.5" text-anchor="end" fill="#262626" >-0.25</text>
<text x="293.20" y="322.70" font-size="4.5" text-anchor="end" fill="#262626" >0.00</text>
<text x="487.30" y="322.70" font-size="4.5" text-anchor="end" fill="#262626" >0.00</text>
<text x="293.20" y="289.50" font-size="4.5" text-anchor="end" fill="#262626" >0.25</text>
<text x="487.30" y="289.50" font-size="4.5" text-anchor="end" fill="#262626" >0.25</text>
<text x="293.20" y="256.30" font-size="4.5" text-anchor="end" fill="#262626" >0.50</text>
<text x="487.30" y="256.30" font-size="4.5" text-anchor="end" fill="#262626" >0.50</text>
<text x="372.30" y="397.80" font-size="4.9" text-anchor="start" fill="#2e2e2e" textLength="29.50" lengthAdjust="spacingAndGlyphs" >PCo1 [20.2%]</text>
<text x="0" y="0" font-size="4.9" fill="#2e2e2e"  text-anchor="middle" transform="translate(281.00,315.30) rotate(-90)">PCo2 [12.1%]</text>
<text x="493.30" y="235.65" font-size="5.6" text-anchor="start" fill="#4a4a4a" textLength="33.80" lengthAdjust="spacingAndGlyphs">Proteobacteria</text>
<text x="533.10" y="283.70" font-size="5.2" text-anchor="start" fill="#222" >Group</text>
<text x="542.90" y="292.30" font-size="4.6" text-anchor="start" fill="#333" >A1</text>
<text x="542.90" y="299.90" font-size="4.6" text-anchor="start" fill="#333" >A2</text>
<text x="542.90" y="307.50" font-size="4.6" text-anchor="start" fill="#333" >A3</text>
<text x="542.90" y="315.10" font-size="4.6" text-anchor="start" fill="#333" >A4</text>
</svg></body></html>
